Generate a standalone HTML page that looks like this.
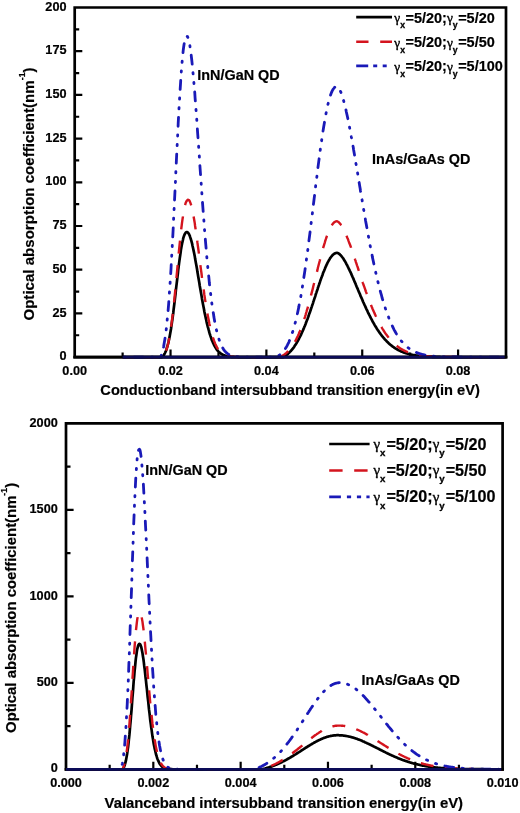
<!DOCTYPE html>
<html><head><meta charset="utf-8"><title>Optical absorption coefficient</title>
<style>html,body{margin:0;padding:0;background:#fff}svg{display:block}text{font-family:"Liberation Sans", sans-serif;font-weight:bold;fill:#000;stroke:#000;stroke-width:0.2px}</style>
</head><body>
<svg width="520" height="813" viewBox="0 0 520 813">
<rect width="520" height="813" fill="#fff"/>
<path d="M74.7,357.1 L74.7,7.5 L506.0,7.5 L506.0,357.1 Z" fill="none" stroke="#000" stroke-width="2.7" stroke-linejoin="miter"/>
<path d="M122.62,357.1 v-4.5 M170.54,357.1 v-7.6 M218.47,357.1 v-4.5 M266.39,357.1 v-7.6 M314.31,357.1 v-4.5 M362.23,357.1 v-7.6 M410.16,357.1 v-4.5 M458.08,357.1 v-7.6 M74.7,335.25 h4.5 M74.7,313.40 h7.6 M74.7,291.55 h4.5 M74.7,269.70 h7.6 M74.7,247.85 h4.5 M74.7,226.00 h7.6 M74.7,204.15 h4.5 M74.7,182.30 h7.6 M74.7,160.45 h4.5 M74.7,138.60 h7.6 M74.7,116.75 h4.5 M74.7,94.90 h7.6 M74.7,73.05 h4.5 M74.7,51.20 h7.6 M74.7,29.35 h4.5" stroke="#000" stroke-width="2.2" fill="none"/>
<path d="M122.6,357.1 L123.0,357.1 L123.4,357.1 L123.8,357.1 L124.1,357.1 L124.5,357.1 L124.9,357.1 L125.3,357.1 L125.7,357.1 L126.1,357.1 L126.4,357.1 L126.8,357.1 L127.2,357.1 L127.6,357.1 L128.0,357.1 L128.4,357.1 L128.7,357.1 L129.1,357.1 L129.5,357.1 L129.9,357.1 L130.3,357.1 L130.7,357.1 L131.0,357.1 L131.4,357.1 L131.8,357.1 L132.2,357.1 L132.6,357.1 L133.0,357.1 L133.3,357.1 L133.7,357.1 L134.1,357.1 L134.5,357.1 L134.9,357.1 L135.3,357.1 L135.6,357.1 L136.0,357.1 L136.4,357.1 L136.8,357.1 L137.2,357.1 L137.6,357.1 L138.0,357.1 L138.3,357.1 L138.7,357.1 L139.1,357.1 L139.5,357.1 L139.9,357.1 L140.3,357.1 L140.6,357.1 L141.0,357.1 L141.4,357.1 L141.8,357.1 L142.2,357.1 L142.6,357.1 L142.9,357.1 L143.3,357.1 L143.7,357.1 L144.1,357.1 L144.5,357.1 L144.9,357.1 L145.2,357.1 L145.6,357.1 L146.0,357.1 L146.4,357.1 L146.8,357.1 L147.2,357.1 L147.5,357.1 L147.9,357.1 L148.3,357.1 L148.7,357.1 L149.1,357.1 L149.5,357.1 L149.8,357.1 L150.2,357.1 L150.6,357.1 L151.0,357.1 L151.4,357.1 L151.8,357.1 L152.2,357.1 L152.5,357.1 L152.9,357.1 L153.3,357.1 L153.7,357.1 L154.1,357.1 L154.5,357.1 L154.8,357.1 L155.2,357.1 L155.6,357.1 L156.0,357.1 L156.4,357.1 L156.8,357.1 L157.1,357.1 L157.5,357.1 L157.9,357.1 L158.3,357.1 L158.7,357.1 L159.1,357.1 L159.4,357.1 L159.8,357.1 L160.2,357.1 L160.6,357.1 L161.0,357.1 L161.4,357.1 L161.7,357.1 L162.1,357.0 L162.5,356.7 L162.9,356.2 L163.3,355.8 L163.7,355.2 L164.0,354.7 L164.4,354.0 L164.8,353.3 L165.2,352.5 L165.6,351.6 L166.0,350.7 L166.4,349.6 L166.7,348.5 L167.1,347.3 L167.5,345.9 L167.9,344.5 L168.3,343.0 L168.7,341.3 L169.0,339.6 L169.4,337.7 L169.8,335.7 L170.2,333.6 L170.6,331.3 L171.0,329.0 L171.3,326.5 L171.7,324.0 L172.1,321.3 L172.5,318.5 L172.9,315.6 L173.3,312.7 L173.6,309.6 L174.0,306.5 L174.4,303.3 L174.8,300.0 L175.2,296.7 L175.6,293.4 L175.9,290.0 L176.3,286.7 L176.7,283.3 L177.1,280.0 L177.5,276.6 L177.9,273.3 L178.2,270.1 L178.6,267.0 L179.0,263.9 L179.4,260.9 L179.8,258.0 L180.2,255.3 L180.6,252.6 L180.9,250.1 L181.3,247.8 L181.7,245.6 L182.1,243.5 L182.5,241.7 L182.9,240.0 L183.2,238.4 L183.6,237.1 L184.0,235.9 L184.4,234.9 L184.8,234.0 L185.2,233.4 L185.5,232.8 L185.9,232.5 L186.3,232.2 L186.7,232.1 L187.1,232.1 L187.5,232.2 L187.8,232.5 L188.2,232.9 L188.6,233.5 L189.0,234.2 L189.4,235.0 L189.8,235.9 L190.1,236.9 L190.5,238.1 L190.9,239.3 L191.3,240.7 L191.7,242.1 L192.1,243.6 L192.4,245.3 L192.8,247.0 L193.2,248.7 L193.6,250.6 L194.0,252.5 L194.4,254.5 L194.8,256.5 L195.1,258.6 L195.5,260.7 L195.9,262.9 L196.3,265.0 L196.7,267.3 L197.1,269.5 L197.4,271.8 L197.8,274.1 L198.2,276.4 L198.6,278.7 L199.0,281.0 L199.4,283.3 L199.7,285.5 L200.1,287.8 L200.5,290.1 L200.9,292.3 L201.3,294.6 L201.7,296.8 L202.0,298.9 L202.4,301.1 L202.8,303.2 L203.2,305.2 L203.6,307.3 L204.0,309.3 L204.3,311.2 L204.7,313.1 L205.1,315.0 L205.5,316.8 L205.9,318.6 L206.3,320.3 L206.6,322.0 L207.0,323.6 L207.4,325.2 L207.8,326.8 L208.2,328.2 L208.6,329.7 L209.0,331.0 L209.3,332.4 L209.7,333.7 L210.1,334.9 L210.5,336.1 L210.9,337.2 L211.3,338.3 L211.6,339.4 L212.0,340.4 L212.4,341.3 L212.8,342.2 L213.2,343.1 L213.6,343.9 L213.9,344.7 L214.3,345.5 L214.7,346.2 L215.1,346.9 L215.5,347.5 L215.9,348.2 L216.2,348.7 L216.6,349.3 L217.0,349.8 L217.4,350.3 L217.8,350.8 L218.2,351.2 L218.5,351.6 L218.9,352.0 L219.3,352.3 L219.7,352.7 L220.1,353.0 L220.5,353.3 L220.8,353.6 L221.2,353.8 L221.6,354.1 L222.0,354.3 L222.4,354.5 L222.8,354.7 L223.2,354.9 L223.5,355.1 L223.9,355.2 L224.3,355.4 L224.7,355.5 L225.1,355.7 L225.5,355.8 L225.8,355.9 L226.2,356.0 L226.6,356.1 L227.0,356.2 L227.4,356.2 L227.8,356.3 L228.1,356.4 L228.5,356.5 L228.9,356.5 L229.3,356.6 L229.7,356.6 L230.1,356.7 L230.4,356.7 L230.8,356.7 L231.2,356.8 L231.6,356.8 L232.0,356.8 L232.4,356.9 L232.7,356.9 L233.1,356.9 L233.5,356.9 L233.9,356.9 L234.3,357.0 L234.7,357.0 L235.0,357.0 L235.4,357.0 L235.8,357.0 L236.2,357.0 L236.6,357.0 L237.0,357.0 L237.4,357.0 L237.7,357.0 L238.1,357.0 L238.5,357.1 L238.9,357.1 L239.3,357.1 L239.7,357.1 L240.0,357.1 L240.4,357.1 L240.8,357.1 L241.2,357.1 L241.6,357.1 L242.0,357.1 L242.3,357.1 L242.7,357.1 L243.1,357.1 L243.5,357.1 L243.9,357.1 L244.3,357.1 L244.6,357.1 L245.0,357.1 L245.4,357.1 L245.8,357.1 L246.2,357.1 L246.6,357.1 L246.9,357.1 L247.3,357.1 L247.7,357.1 L248.1,357.1 L248.5,357.1 L248.9,357.1 L249.2,357.1 L249.6,357.1 L250.0,357.1 L250.4,357.1 L250.8,357.1 L251.2,357.1 L251.6,357.1 L251.9,357.1 L252.3,357.1 L252.7,357.1 L253.1,357.1 L253.5,357.1 L253.9,357.1 L254.2,357.1 L254.6,357.1 L255.0,357.1 L255.4,357.1 L255.8,357.1 L256.2,357.1 L256.5,357.1 L256.9,357.1 L257.3,357.1 L257.7,357.1 L258.1,357.1 L258.5,357.1 L258.8,357.1 L259.2,357.1 L259.6,357.1 L260.0,357.1 L260.4,357.1 L260.8,357.1 L261.1,357.1 L261.5,357.1 L261.9,357.1 L262.3,357.1 L262.7,357.1 L263.1,357.1 L263.4,357.1 L263.8,357.1 L264.2,357.1 L264.6,357.1 L265.0,357.1 L265.4,357.1 L265.8,357.1 L266.1,357.1 L266.5,357.1 L266.9,357.1 L267.3,357.1 L267.7,357.1 L268.1,357.1 L268.4,357.1 L268.8,357.1 L269.2,357.1 L269.6,357.1 L270.0,357.1 L270.4,357.1 L270.7,357.1 L271.1,357.1 L271.5,357.1 L271.9,357.1 L272.3,357.1 L272.7,357.1 L273.0,357.1 L273.4,357.1 L273.8,357.1 L274.2,357.1 L274.6,357.1 L275.0,357.1 L275.3,357.1 L275.7,357.1 L276.1,357.1 L276.5,357.1 L276.9,357.1 L277.3,357.1 L277.6,357.1 L278.0,357.1 L278.4,357.1 L278.8,357.1 L279.2,357.1 L279.6,357.1 L280.0,357.1 L280.3,357.1 L280.7,357.1 L281.1,357.1 L281.5,357.1 L281.9,357.1 L282.3,357.1 L282.6,357.1 L283.0,357.1 L283.4,357.1 L283.8,356.9 L284.2,356.7 L284.6,356.4 L284.9,356.2 L285.3,355.9 L285.7,355.6 L286.1,355.3 L286.5,355.0 L286.9,354.7 L287.2,354.4 L287.6,354.1 L288.0,353.8 L288.4,353.4 L288.8,353.0 L289.2,352.7 L289.5,352.3 L289.9,351.9 L290.3,351.5 L290.7,351.1 L291.1,350.7 L291.5,350.2 L291.8,349.8 L292.2,349.3 L292.6,348.8 L293.0,348.3 L293.4,347.8 L293.8,347.3 L294.2,346.7 L294.5,346.2 L294.9,345.6 L295.3,345.0 L295.7,344.4 L296.1,343.8 L296.5,343.2 L296.8,342.6 L297.2,341.9 L297.6,341.3 L298.0,340.6 L298.4,339.9 L298.8,339.2 L299.1,338.4 L299.5,337.7 L299.9,336.9 L300.3,336.2 L300.7,335.4 L301.1,334.6 L301.4,333.7 L301.8,332.9 L302.2,332.0 L302.6,331.2 L303.0,330.3 L303.4,329.4 L303.7,328.5 L304.1,327.6 L304.5,326.6 L304.9,325.7 L305.3,324.7 L305.7,323.7 L306.0,322.8 L306.4,321.7 L306.8,320.7 L307.2,319.7 L307.6,318.7 L308.0,317.6 L308.4,316.5 L308.7,315.5 L309.1,314.4 L309.5,313.3 L309.9,312.2 L310.3,311.1 L310.7,310.0 L311.0,308.8 L311.4,307.7 L311.8,306.6 L312.2,305.4 L312.6,304.3 L313.0,303.1 L313.3,301.9 L313.7,300.8 L314.1,299.6 L314.5,298.4 L314.9,297.3 L315.3,296.1 L315.6,294.9 L316.0,293.7 L316.4,292.6 L316.8,291.4 L317.2,290.2 L317.6,289.1 L317.9,287.9 L318.3,286.8 L318.7,285.6 L319.1,284.5 L319.5,283.3 L319.9,282.2 L320.2,281.1 L320.6,280.0 L321.0,278.9 L321.4,277.8 L321.8,276.8 L322.2,275.7 L322.6,274.7 L322.9,273.6 L323.3,272.6 L323.7,271.6 L324.1,270.7 L324.5,269.7 L324.9,268.8 L325.2,267.9 L325.6,267.0 L326.0,266.1 L326.4,265.2 L326.8,264.4 L327.2,263.6 L327.5,262.8 L327.9,262.1 L328.3,261.4 L328.7,260.6 L329.1,260.0 L329.5,259.3 L329.8,258.7 L330.2,258.1 L330.6,257.6 L331.0,257.0 L331.4,256.5 L331.8,256.1 L332.1,255.6 L332.5,255.2 L332.9,254.8 L333.3,254.5 L333.7,254.2 L334.1,253.9 L334.4,253.7 L334.8,253.5 L335.2,253.3 L335.6,253.1 L336.0,253.0 L336.4,253.0 L336.8,252.9 L337.1,252.9 L337.5,253.0 L337.9,253.1 L338.3,253.3 L338.7,253.5 L339.1,253.8 L339.4,254.1 L339.8,254.4 L340.2,254.8 L340.6,255.1 L341.0,255.6 L341.4,256.0 L341.7,256.5 L342.1,257.0 L342.5,257.5 L342.9,258.0 L343.3,258.6 L343.7,259.2 L344.0,259.8 L344.4,260.4 L344.8,261.0 L345.2,261.7 L345.6,262.4 L346.0,263.1 L346.3,263.8 L346.7,264.5 L347.1,265.2 L347.5,266.0 L347.9,266.8 L348.3,267.5 L348.6,268.3 L349.0,269.1 L349.4,269.9 L349.8,270.8 L350.2,271.6 L350.6,272.4 L351.0,273.3 L351.3,274.1 L351.7,275.0 L352.1,275.9 L352.5,276.8 L352.9,277.6 L353.3,278.5 L353.6,279.4 L354.0,280.3 L354.4,281.2 L354.8,282.1 L355.2,283.0 L355.6,283.9 L355.9,284.8 L356.3,285.7 L356.7,286.7 L357.1,287.6 L357.5,288.5 L357.9,289.4 L358.2,290.3 L358.6,291.2 L359.0,292.1 L359.4,293.0 L359.8,293.9 L360.2,294.8 L360.5,295.8 L360.9,296.6 L361.3,297.5 L361.7,298.4 L362.1,299.3 L362.5,300.2 L362.8,301.1 L363.2,302.0 L363.6,302.8 L364.0,303.7 L364.4,304.6 L364.8,305.4 L365.2,306.3 L365.5,307.1 L365.9,307.9 L366.3,308.8 L366.7,309.6 L367.1,310.4 L367.5,311.2 L367.8,312.0 L368.2,312.8 L368.6,313.6 L369.0,314.4 L369.4,315.2 L369.8,315.9 L370.1,316.7 L370.5,317.4 L370.9,318.2 L371.3,318.9 L371.7,319.6 L372.1,320.3 L372.4,321.1 L372.8,321.8 L373.2,322.4 L373.6,323.1 L374.0,323.8 L374.4,324.5 L374.7,325.1 L375.1,325.8 L375.5,326.4 L375.9,327.0 L376.3,327.7 L376.7,328.3 L377.0,328.9 L377.4,329.5 L377.8,330.1 L378.2,330.6 L378.6,331.2 L379.0,331.8 L379.4,332.3 L379.7,332.9 L380.1,333.4 L380.5,333.9 L380.9,334.5 L381.3,335.0 L381.7,335.5 L382.0,336.0 L382.4,336.4 L382.8,336.9 L383.2,337.4 L383.6,337.8 L384.0,338.3 L384.3,338.7 L384.7,339.2 L385.1,339.6 L385.5,340.0 L385.9,340.4 L386.3,340.8 L386.6,341.2 L387.0,341.6 L387.4,342.0 L387.8,342.4 L388.2,342.7 L388.6,343.1 L388.9,343.5 L389.3,343.8 L389.7,344.1 L390.1,344.5 L390.5,344.8 L390.9,345.1 L391.2,345.4 L391.6,345.7 L392.0,346.0 L392.4,346.3 L392.8,346.6 L393.2,346.9 L393.6,347.1 L393.9,347.4 L394.3,347.7 L394.7,347.9 L395.1,348.2 L395.5,348.4 L395.9,348.7 L396.2,348.9 L396.6,349.1 L397.0,349.3 L397.4,349.6 L397.8,349.8 L398.2,350.0 L398.5,350.2 L398.9,350.4 L399.3,350.6 L399.7,350.8 L400.1,350.9 L400.5,351.1 L400.8,351.3 L401.2,351.5 L401.6,351.6 L402.0,351.8 L402.4,351.9 L402.8,352.1 L403.1,352.2 L403.5,352.4 L403.9,352.5 L404.3,352.7 L404.7,352.8 L405.1,352.9 L405.4,353.1 L405.8,353.2 L406.2,353.3 L406.6,353.4 L407.0,353.5 L407.4,353.6 L407.8,353.7 L408.1,353.9 L408.5,354.0 L408.9,354.1 L409.3,354.2 L409.7,354.2 L410.1,354.3 L410.4,354.4 L410.8,354.5 L411.2,354.6 L411.6,354.7 L412.0,354.8 L412.4,354.8 L412.7,354.9 L413.1,355.0 L413.5,355.0 L413.9,355.1 L414.3,355.2 L414.7,355.2 L415.0,355.3 L415.4,355.4 L415.8,355.4 L416.2,355.5 L416.6,355.5 L417.0,355.6 L417.3,355.6 L417.7,355.7 L418.1,355.7 L418.5,355.8 L418.9,355.8 L419.3,355.9 L419.6,355.9 L420.0,356.0 L420.4,356.0 L420.8,356.0 L421.2,356.1 L421.6,356.1 L422.0,356.1 L422.3,356.2 L422.7,356.2 L423.1,356.2 L423.5,356.3 L423.9,356.3 L424.3,356.3 L424.6,356.4 L425.0,356.4 L425.4,356.4 L425.8,356.4 L426.2,356.5 L426.6,356.5 L426.9,356.5 L427.3,356.5 L427.7,356.5 L428.1,356.6 L428.5,356.6 L428.9,356.6 L429.2,356.6 L429.6,356.6 L430.0,356.7 L430.4,356.7 L430.8,356.7 L431.2,356.7 L431.5,356.7 L431.9,356.7 L432.3,356.8 L432.7,356.8 L433.1,356.8 L433.5,356.8 L433.8,356.8 L434.2,356.8 L434.6,356.8 L435.0,356.8 L435.4,356.8 L435.8,356.9 L436.2,356.9 L436.5,356.9 L436.9,356.9 L437.3,356.9 L437.7,356.9 L438.1,356.9 L438.5,356.9 L438.8,356.9 L439.2,356.9 L439.6,356.9 L440.0,356.9 L440.4,357.0 L440.8,357.0 L441.1,357.0 L441.5,357.0 L441.9,357.0 L442.3,357.0 L442.7,357.0 L443.1,357.0 L443.4,357.0 L443.8,357.0 L444.2,357.0 L444.6,357.0 L445.0,357.0 L445.4,357.0 L445.7,357.0 L446.1,357.0 L446.5,357.0 L446.9,357.0 L447.3,357.0 L447.7,357.0 L448.0,357.0 L448.4,357.0 L448.8,357.0 L449.2,357.0 L449.6,357.0 L450.0,357.0 L450.4,357.1 L450.7,357.1 L451.1,357.1 L451.5,357.1 L451.9,357.1 L452.3,357.1 L452.7,357.1 L453.0,357.1 L453.4,357.1 L453.8,357.1 L454.2,357.1 L454.6,357.1 L455.0,357.1 L455.3,357.1 L455.7,357.1 L456.1,357.1 L456.5,357.1 L456.9,357.1 L457.3,357.1 L457.6,357.1 L458.0,357.1 L458.4,357.1 L458.8,357.1 L459.2,357.1 L459.6,357.1 L459.9,357.1 L460.3,357.1 L460.7,357.1 L461.1,357.1 L461.5,357.1 L461.9,357.1 L462.2,357.1 L462.6,357.1 L463.0,357.1 L463.4,357.1 L463.8,357.1 L464.2,357.1 L464.6,357.1 L464.9,357.1 L465.3,357.1 L465.7,357.1 L466.1,357.1 L466.5,357.1 L466.9,357.1 L467.2,357.1 L467.6,357.1 L468.0,357.1 L468.4,357.1 L468.8,357.1 L469.2,357.1 L469.5,357.1 L469.9,357.1 L470.3,357.1 L470.7,357.1 L471.1,357.1 L471.5,357.1 L471.8,357.1 L472.2,357.1 L472.6,357.1 L473.0,357.1 L473.4,357.1 L473.8,357.1 L474.1,357.1 L474.5,357.1 L474.9,357.1 L475.3,357.1 L475.7,357.1 L476.1,357.1 L476.4,357.1 L476.8,357.1 L477.2,357.1 L477.6,357.1 L478.0,357.1 L478.4,357.1 L478.8,357.1 L479.1,357.1 L479.5,357.1 L479.9,357.1 L480.3,357.1 L480.7,357.1 L481.1,357.1 L481.4,357.1 L481.8,357.1 L482.2,357.1 L482.6,357.1 L483.0,357.1 L483.4,357.1 L483.7,357.1 L484.1,357.1 L484.5,357.1 L484.9,357.1 L485.3,357.1 L485.7,357.1 L486.0,357.1 L486.4,357.1 L486.8,357.1 L487.2,357.1 L487.6,357.1 L488.0,357.1 L488.3,357.1 L488.7,357.1 L489.1,357.1 L489.5,357.1 L489.9,357.1 L490.3,357.1 L490.6,357.1 L491.0,357.1 L491.4,357.1 L491.8,357.1 L492.2,357.1 L492.6,357.1 L493.0,357.1 L493.3,357.1 L493.7,357.1 L494.1,357.1 L494.5,357.1 L494.9,357.1 L495.3,357.1 L495.6,357.1 L496.0,357.1 L496.4,357.1 L496.8,357.1 L497.2,357.1 L497.6,357.1 L497.9,357.1 L498.3,357.1 L498.7,357.1 L499.1,357.1 L499.5,357.1 L499.9,357.1 L500.2,357.1 L500.6,357.1 L501.0,357.1 L501.4,357.1 L501.8,357.1 L502.2,357.1 L502.5,357.1 L502.9,357.1 L503.3,357.1 L503.7,357.1 L504.1,357.1 L504.5,357.1 L504.8,357.1 L505.2,357.1 L505.6,357.1 L506.0,357.1" fill="none" stroke="#000" stroke-width="2.7" stroke-linejoin="round"/>
<path d="M122.6,357.1 L123.0,357.1 L123.4,357.1 L123.8,357.1 L124.1,357.1 L124.5,357.1 L124.9,357.1 L125.3,357.1 L125.7,357.1 L126.1,357.1 L126.4,357.1 L126.8,357.1 L127.2,357.1 L127.6,357.1 L128.0,357.1 L128.4,357.1 L128.7,357.1 L129.1,357.1 L129.5,357.1 L129.9,357.1 L130.3,357.1 L130.7,357.1 L131.0,357.1 L131.4,357.1 L131.8,357.1 L132.2,357.1 L132.6,357.1 L133.0,357.1 L133.3,357.1 L133.7,357.1 L134.1,357.1 L134.5,357.1 L134.9,357.1 L135.3,357.1 L135.6,357.1 L136.0,357.1 L136.4,357.1 L136.8,357.1 L137.2,357.1 L137.6,357.1 L138.0,357.1 L138.3,357.1 L138.7,357.1 L139.1,357.1 L139.5,357.1 L139.9,357.1 L140.3,357.1 L140.6,357.1 L141.0,357.1 L141.4,357.1 L141.8,357.1 L142.2,357.1 L142.6,357.1 L142.9,357.1 L143.3,357.1 L143.7,357.1 L144.1,357.1 L144.5,357.1 L144.9,357.1 L145.2,357.1 L145.6,357.1 L146.0,357.1 L146.4,357.1 L146.8,357.1 L147.2,357.1 L147.5,357.1 L147.9,357.1 L148.3,357.1 L148.7,357.1 L149.1,357.1 L149.5,357.1 L149.8,357.1 L150.2,357.1 L150.6,357.1 L151.0,357.1 L151.4,357.1 L151.8,357.1 L152.2,357.1 L152.5,357.1 L152.9,357.1 L153.3,357.1 L153.7,357.1 L154.1,357.1 L154.5,357.1 L154.8,357.1 L155.2,357.1 L155.6,357.1 L156.0,357.1 L156.4,357.1 L156.8,357.1 L157.1,357.1 L157.5,357.1 L157.9,357.1 L158.3,357.1 L158.7,357.1 L159.1,357.1 L159.4,357.1 L159.8,357.1 L160.2,357.1 L160.6,357.1 L161.0,357.1 L161.4,357.1 L161.7,357.1 L162.1,357.1 L162.5,357.1 L162.9,356.8 L163.3,356.3 L163.7,355.8 L164.0,355.2 L164.4,354.5 L164.8,353.8 L165.2,353.0 L165.6,352.0 L166.0,351.1 L166.4,350.0 L166.7,348.8 L167.1,347.5 L167.5,346.1 L167.9,344.6 L168.3,342.9 L168.7,341.2 L169.0,339.3 L169.4,337.3 L169.8,335.1 L170.2,332.8 L170.6,330.4 L171.0,327.8 L171.3,325.1 L171.7,322.3 L172.1,319.3 L172.5,316.2 L172.9,312.9 L173.3,309.5 L173.6,306.1 L174.0,302.5 L174.4,298.8 L174.8,295.0 L175.2,291.1 L175.6,287.1 L175.9,283.1 L176.3,279.1 L176.7,275.0 L177.1,270.9 L177.5,266.7 L177.9,262.6 L178.2,258.5 L178.6,254.5 L179.0,250.5 L179.4,246.6 L179.8,242.7 L180.2,239.0 L180.6,235.4 L180.9,231.9 L181.3,228.5 L181.7,225.3 L182.1,222.2 L182.5,219.4 L182.9,216.7 L183.2,214.2 L183.6,211.9 L184.0,209.8 L184.4,207.9 L184.8,206.2 L185.2,204.7 L185.5,203.5 L185.9,202.4 L186.3,201.5 L186.7,200.9 L187.1,200.4 L187.5,200.0 L187.8,199.8 L188.2,199.8 L188.6,199.9 L189.0,200.2 L189.4,200.6 L189.8,201.3 L190.1,202.1 L190.5,203.2 L190.9,204.3 L191.3,205.6 L191.7,207.1 L192.1,208.7 L192.4,210.5 L192.8,212.4 L193.2,214.4 L193.6,216.5 L194.0,218.7 L194.4,221.0 L194.8,223.4 L195.1,226.0 L195.5,228.5 L195.9,231.2 L196.3,233.9 L196.7,236.7 L197.1,239.5 L197.4,242.4 L197.8,245.3 L198.2,248.2 L198.6,251.2 L199.0,254.2 L199.4,257.2 L199.7,260.2 L200.1,263.1 L200.5,266.1 L200.9,269.1 L201.3,272.0 L201.7,275.0 L202.0,277.9 L202.4,280.7 L202.8,283.6 L203.2,286.4 L203.6,289.1 L204.0,291.8 L204.3,294.5 L204.7,297.0 L205.1,299.6 L205.5,302.1 L205.9,304.5 L206.3,306.8 L206.6,309.1 L207.0,311.4 L207.4,313.5 L207.8,315.6 L208.2,317.7 L208.6,319.6 L209.0,321.5 L209.3,323.4 L209.7,325.1 L210.1,326.8 L210.5,328.5 L210.9,330.1 L211.3,331.6 L211.6,333.0 L212.0,334.4 L212.4,335.7 L212.8,337.0 L213.2,338.2 L213.6,339.3 L213.9,340.4 L214.3,341.4 L214.7,342.4 L215.1,343.4 L215.5,344.3 L215.9,345.1 L216.2,345.9 L216.6,346.6 L217.0,347.4 L217.4,348.0 L217.8,348.7 L218.2,349.2 L218.5,349.8 L218.9,350.3 L219.3,350.8 L219.7,351.3 L220.1,351.7 L220.5,352.1 L220.8,352.5 L221.2,352.8 L221.6,353.2 L222.0,353.5 L222.4,353.8 L222.8,354.0 L223.2,354.3 L223.5,354.5 L223.9,354.7 L224.3,354.9 L224.7,355.1 L225.1,355.3 L225.5,355.4 L225.8,355.6 L226.2,355.7 L226.6,355.8 L227.0,355.9 L227.4,356.0 L227.8,356.1 L228.1,356.2 L228.5,356.3 L228.9,356.4 L229.3,356.4 L229.7,356.5 L230.1,356.6 L230.4,356.6 L230.8,356.7 L231.2,356.7 L231.6,356.7 L232.0,356.8 L232.4,356.8 L232.7,356.8 L233.1,356.9 L233.5,356.9 L233.9,356.9 L234.3,356.9 L234.7,356.9 L235.0,357.0 L235.4,357.0 L235.8,357.0 L236.2,357.0 L236.6,357.0 L237.0,357.0 L237.4,357.0 L237.7,357.0 L238.1,357.0 L238.5,357.0 L238.9,357.1 L239.3,357.1 L239.7,357.1 L240.0,357.1 L240.4,357.1 L240.8,357.1 L241.2,357.1 L241.6,357.1 L242.0,357.1 L242.3,357.1 L242.7,357.1 L243.1,357.1 L243.5,357.1 L243.9,357.1 L244.3,357.1 L244.6,357.1 L245.0,357.1 L245.4,357.1 L245.8,357.1 L246.2,357.1 L246.6,357.1 L246.9,357.1 L247.3,357.1 L247.7,357.1 L248.1,357.1 L248.5,357.1 L248.9,357.1 L249.2,357.1 L249.6,357.1 L250.0,357.1 L250.4,357.1 L250.8,357.1 L251.2,357.1 L251.6,357.1 L251.9,357.1 L252.3,357.1 L252.7,357.1 L253.1,357.1 L253.5,357.1 L253.9,357.1 L254.2,357.1 L254.6,357.1 L255.0,357.1 L255.4,357.1 L255.8,357.1 L256.2,357.1 L256.5,357.1 L256.9,357.1 L257.3,357.1 L257.7,357.1 L258.1,357.1 L258.5,357.1 L258.8,357.1 L259.2,357.1 L259.6,357.1 L260.0,357.1 L260.4,357.1 L260.8,357.1 L261.1,357.1 L261.5,357.1 L261.9,357.1" fill="none" stroke="#d4141e" stroke-width="2.4" stroke-dasharray="13 11.5" stroke-dashoffset="1.65" stroke-linejoin="round"/>
<path d="M261.9,357.1 L262.3,357.1 L262.7,357.1 L263.1,357.1 L263.4,357.1 L263.8,357.1 L264.2,357.1 L264.6,357.1 L265.0,357.1 L265.4,357.1 L265.8,357.1 L266.1,357.1 L266.5,357.1 L266.9,357.1 L267.3,357.1 L267.7,357.1 L268.1,357.1 L268.4,357.1 L268.8,357.1 L269.2,357.1 L269.6,357.1 L270.0,357.1 L270.4,357.1 L270.7,357.1 L271.1,357.1 L271.5,357.1 L271.9,357.1 L272.3,357.1 L272.7,357.1 L273.0,357.1 L273.4,357.1 L273.8,357.1 L274.2,357.1 L274.6,357.1 L275.0,357.1 L275.3,357.1 L275.7,357.1 L276.1,357.1 L276.5,357.1 L276.9,357.1 L277.3,357.1 L277.6,357.1 L278.0,357.1 L278.4,357.1 L278.8,357.1 L279.2,357.1 L279.6,357.1 L280.0,357.1 L280.3,356.9 L280.7,356.7 L281.1,356.5 L281.5,356.3 L281.9,356.1 L282.3,355.9 L282.6,355.6 L283.0,355.4 L283.4,355.2 L283.8,354.9 L284.2,354.6 L284.6,354.4 L284.9,354.1 L285.3,353.8 L285.7,353.5 L286.1,353.2 L286.5,352.8 L286.9,352.5 L287.2,352.1 L287.6,351.8 L288.0,351.4 L288.4,351.0 L288.8,350.6 L289.2,350.1 L289.5,349.7 L289.9,349.2 L290.3,348.8 L290.7,348.3 L291.1,347.8 L291.5,347.3 L291.8,346.7 L292.2,346.2 L292.6,345.6 L293.0,345.0 L293.4,344.4 L293.8,343.8 L294.2,343.1 L294.5,342.5 L294.9,341.8 L295.3,341.1 L295.7,340.4 L296.1,339.7 L296.5,338.9 L296.8,338.1 L297.2,337.3 L297.6,336.5 L298.0,335.7 L298.4,334.8 L298.8,333.9 L299.1,333.0 L299.5,332.1 L299.9,331.2 L300.3,330.2 L300.7,329.2 L301.1,328.2 L301.4,327.2 L301.8,326.2 L302.2,325.1 L302.6,324.0 L303.0,322.9 L303.4,321.8 L303.7,320.6 L304.1,319.5 L304.5,318.3 L304.9,317.1 L305.3,315.8 L305.7,314.6 L306.0,313.3 L306.4,312.1 L306.8,310.7 L307.2,309.4 L307.6,308.1 L308.0,306.7 L308.4,305.4 L308.7,304.0 L309.1,302.6 L309.5,301.2 L309.9,299.7 L310.3,298.3 L310.7,296.8 L311.0,295.4 L311.4,293.9 L311.8,292.4 L312.2,290.9 L312.6,289.4 L313.0,287.9 L313.3,286.3 L313.7,284.8 L314.1,283.3 L314.5,281.7 L314.9,280.2 L315.3,278.6 L315.6,277.1 L316.0,275.5 L316.4,274.0 L316.8,272.4 L317.2,270.9 L317.6,269.4 L317.9,267.8 L318.3,266.3 L318.7,264.8 L319.1,263.2 L319.5,261.7 L319.9,260.2 L320.2,258.8 L320.6,257.3 L321.0,255.8 L321.4,254.4 L321.8,252.9 L322.2,251.5 L322.6,250.1 L322.9,248.8 L323.3,247.4 L323.7,246.1 L324.1,244.8 L324.5,243.5 L324.9,242.3 L325.2,241.0 L325.6,239.8 L326.0,238.7 L326.4,237.5 L326.8,236.4 L327.2,235.3 L327.5,234.3 L327.9,233.3 L328.3,232.3 L328.7,231.4 L329.1,230.5 L329.5,229.6 L329.8,228.8 L330.2,228.0 L330.6,227.3 L331.0,226.5 L331.4,225.9 L331.8,225.3 L332.1,224.7 L332.5,224.2 L332.9,223.7 L333.3,223.2 L333.7,222.8 L334.1,222.5 L334.4,222.2 L334.8,221.9 L335.2,221.7 L335.6,221.5 L336.0,221.4 L336.4,221.3 L336.8,221.3 L337.1,221.3 L337.5,221.5 L337.9,221.7 L338.3,221.9 L338.7,222.2 L339.1,222.6 L339.4,222.9 L339.8,223.4 L340.2,223.8 L340.6,224.3 L341.0,224.9 L341.4,225.4 L341.7,226.0 L342.1,226.7 L342.5,227.3 L342.9,228.0 L343.3,228.8 L343.7,229.5 L344.0,230.3 L344.4,231.1 L344.8,231.9 L345.2,232.7 L345.6,233.6 L346.0,234.5 L346.3,235.4 L346.7,236.3 L347.1,237.2 L347.5,238.2 L347.9,239.1 L348.3,240.1 L348.6,241.1 L349.0,242.2 L349.4,243.2 L349.8,244.2 L350.2,245.3 L350.6,246.3 L351.0,247.4 L351.3,248.5 L351.7,249.6 L352.1,250.7 L352.5,251.8 L352.9,252.9 L353.3,254.1 L353.6,255.2 L354.0,256.3 L354.4,257.5 L354.8,258.6 L355.2,259.8 L355.6,260.9 L355.9,262.1 L356.3,263.2 L356.7,264.4 L357.1,265.6 L357.5,266.7 L357.9,267.9 L358.2,269.0 L358.6,270.2 L359.0,271.4 L359.4,272.5 L359.8,273.7 L360.2,274.8 L360.5,276.0 L360.9,277.1 L361.3,278.3 L361.7,279.4 L362.1,280.5 L362.5,281.7 L362.8,282.8 L363.2,283.9 L363.6,285.0 L364.0,286.1 L364.4,287.2 L364.8,288.3 L365.2,289.4 L365.5,290.5 L365.9,291.6 L366.3,292.6 L366.7,293.7 L367.1,294.7 L367.5,295.8 L367.8,296.8 L368.2,297.8 L368.6,298.9 L369.0,299.9 L369.4,300.9 L369.8,301.9 L370.1,302.8 L370.5,303.8 L370.9,304.8 L371.3,305.7 L371.7,306.7 L372.1,307.6 L372.4,308.5 L372.8,309.4 L373.2,310.3 L373.6,311.2 L374.0,312.1 L374.4,312.9 L374.7,313.8 L375.1,314.6 L375.5,315.5 L375.9,316.3 L376.3,317.1 L376.7,317.9 L377.0,318.7 L377.4,319.5 L377.8,320.3 L378.2,321.0 L378.6,321.8 L379.0,322.5 L379.4,323.2 L379.7,324.0 L380.1,324.7 L380.5,325.4 L380.9,326.0 L381.3,326.7 L381.7,327.4 L382.0,328.0 L382.4,328.7 L382.8,329.3 L383.2,329.9 L383.6,330.5 L384.0,331.1 L384.3,331.7 L384.7,332.3 L385.1,332.9 L385.5,333.4 L385.9,334.0 L386.3,334.5 L386.6,335.0 L387.0,335.6 L387.4,336.1 L387.8,336.6 L388.2,337.1 L388.6,337.5 L388.9,338.0 L389.3,338.5 L389.7,338.9 L390.1,339.4 L390.5,339.8 L390.9,340.2 L391.2,340.7 L391.6,341.1 L392.0,341.5 L392.4,341.9 L392.8,342.3 L393.2,342.6 L393.6,343.0 L393.9,343.4 L394.3,343.7 L394.7,344.1 L395.1,344.4 L395.5,344.8 L395.9,345.1 L396.2,345.4 L396.6,345.7 L397.0,346.0 L397.4,346.3 L397.8,346.6 L398.2,346.9 L398.5,347.2 L398.9,347.4 L399.3,347.7 L399.7,348.0 L400.1,348.2 L400.5,348.5 L400.8,348.7 L401.2,348.9 L401.6,349.2 L402.0,349.4 L402.4,349.6 L402.8,349.8 L403.1,350.0 L403.5,350.2 L403.9,350.4 L404.3,350.6 L404.7,350.8 L405.1,351.0 L405.4,351.2 L405.8,351.3 L406.2,351.5 L406.6,351.7 L407.0,351.8 L407.4,352.0 L407.8,352.2 L408.1,352.3 L408.5,352.4 L408.9,352.6 L409.3,352.7 L409.7,352.9 L410.1,353.0 L410.4,353.1 L410.8,353.2 L411.2,353.4 L411.6,353.5 L412.0,353.6 L412.4,353.7 L412.7,353.8 L413.1,353.9 L413.5,354.0 L413.9,354.1 L414.3,354.2 L414.7,354.3 L415.0,354.4 L415.4,354.5 L415.8,354.6 L416.2,354.6 L416.6,354.7 L417.0,354.8 L417.3,354.9 L417.7,354.9 L418.1,355.0 L418.5,355.1 L418.9,355.2 L419.3,355.2 L419.6,355.3 L420.0,355.3 L420.4,355.4 L420.8,355.5 L421.2,355.5 L421.6,355.6 L422.0,355.6 L422.3,355.7 L422.7,355.7 L423.1,355.8 L423.5,355.8 L423.9,355.9 L424.3,355.9 L424.6,355.9 L425.0,356.0 L425.4,356.0 L425.8,356.1 L426.2,356.1 L426.6,356.1 L426.9,356.2 L427.3,356.2 L427.7,356.2 L428.1,356.3 L428.5,356.3 L428.9,356.3 L429.2,356.3 L429.6,356.4 L430.0,356.4 L430.4,356.4 L430.8,356.4 L431.2,356.5 L431.5,356.5 L431.9,356.5 L432.3,356.5 L432.7,356.6 L433.1,356.6 L433.5,356.6 L433.8,356.6 L434.2,356.6 L434.6,356.7 L435.0,356.7 L435.4,356.7 L435.8,356.7 L436.2,356.7 L436.5,356.7 L436.9,356.7 L437.3,356.8 L437.7,356.8 L438.1,356.8 L438.5,356.8 L438.8,356.8 L439.2,356.8 L439.6,356.8 L440.0,356.8 L440.4,356.9 L440.8,356.9 L441.1,356.9 L441.5,356.9 L441.9,356.9 L442.3,356.9 L442.7,356.9 L443.1,356.9 L443.4,356.9 L443.8,356.9 L444.2,356.9 L444.6,356.9 L445.0,356.9 L445.4,357.0 L445.7,357.0 L446.1,357.0 L446.5,357.0 L446.9,357.0 L447.3,357.0 L447.7,357.0 L448.0,357.0 L448.4,357.0 L448.8,357.0 L449.2,357.0 L449.6,357.0 L450.0,357.0 L450.4,357.0 L450.7,357.0 L451.1,357.0 L451.5,357.0 L451.9,357.0 L452.3,357.0 L452.7,357.0 L453.0,357.0 L453.4,357.0 L453.8,357.0 L454.2,357.0 L454.6,357.0 L455.0,357.0 L455.3,357.1 L455.7,357.1 L456.1,357.1 L456.5,357.1 L456.9,357.1 L457.3,357.1 L457.6,357.1 L458.0,357.1 L458.4,357.1 L458.8,357.1 L459.2,357.1 L459.6,357.1 L459.9,357.1 L460.3,357.1 L460.7,357.1 L461.1,357.1 L461.5,357.1 L461.9,357.1 L462.2,357.1 L462.6,357.1 L463.0,357.1 L463.4,357.1 L463.8,357.1 L464.2,357.1 L464.6,357.1 L464.9,357.1 L465.3,357.1 L465.7,357.1 L466.1,357.1 L466.5,357.1 L466.9,357.1 L467.2,357.1 L467.6,357.1 L468.0,357.1 L468.4,357.1 L468.8,357.1 L469.2,357.1 L469.5,357.1 L469.9,357.1 L470.3,357.1 L470.7,357.1 L471.1,357.1 L471.5,357.1 L471.8,357.1 L472.2,357.1 L472.6,357.1 L473.0,357.1 L473.4,357.1 L473.8,357.1 L474.1,357.1 L474.5,357.1 L474.9,357.1 L475.3,357.1 L475.7,357.1 L476.1,357.1 L476.4,357.1 L476.8,357.1 L477.2,357.1 L477.6,357.1 L478.0,357.1 L478.4,357.1 L478.8,357.1 L479.1,357.1 L479.5,357.1 L479.9,357.1 L480.3,357.1 L480.7,357.1 L481.1,357.1 L481.4,357.1 L481.8,357.1 L482.2,357.1 L482.6,357.1 L483.0,357.1 L483.4,357.1 L483.7,357.1 L484.1,357.1 L484.5,357.1 L484.9,357.1 L485.3,357.1 L485.7,357.1 L486.0,357.1 L486.4,357.1 L486.8,357.1 L487.2,357.1 L487.6,357.1 L488.0,357.1 L488.3,357.1 L488.7,357.1 L489.1,357.1 L489.5,357.1 L489.9,357.1 L490.3,357.1 L490.6,357.1 L491.0,357.1 L491.4,357.1 L491.8,357.1 L492.2,357.1 L492.6,357.1 L493.0,357.1 L493.3,357.1 L493.7,357.1 L494.1,357.1 L494.5,357.1 L494.9,357.1 L495.3,357.1 L495.6,357.1 L496.0,357.1 L496.4,357.1 L496.8,357.1 L497.2,357.1 L497.6,357.1 L497.9,357.1 L498.3,357.1 L498.7,357.1 L499.1,357.1 L499.5,357.1 L499.9,357.1 L500.2,357.1 L500.6,357.1 L501.0,357.1 L501.4,357.1 L501.8,357.1 L502.2,357.1 L502.5,357.1 L502.9,357.1 L503.3,357.1 L503.7,357.1 L504.1,357.1 L504.5,357.1 L504.8,357.1 L505.2,357.1 L505.6,357.1 L506.0,357.1" fill="none" stroke="#d4141e" stroke-width="2.4" stroke-dasharray="13 11.5" stroke-dashoffset="9.03" stroke-linejoin="round"/>
<path d="M122.6,357.1 L123.0,357.1 L123.4,357.1 L123.8,357.1 L124.1,357.1 L124.5,357.1 L124.9,357.1 L125.3,357.1 L125.7,357.1 L126.1,357.1 L126.4,357.1 L126.8,357.1 L127.2,357.1 L127.6,357.1 L128.0,357.1 L128.4,357.1 L128.7,357.1 L129.1,357.1 L129.5,357.1 L129.9,357.1 L130.3,357.1 L130.7,357.1 L131.0,357.1 L131.4,357.1 L131.8,357.1 L132.2,357.1 L132.6,357.1 L133.0,357.1 L133.3,357.1 L133.7,357.1 L134.1,357.1 L134.5,357.1 L134.9,357.1 L135.3,357.1 L135.6,357.1 L136.0,357.1 L136.4,357.1 L136.8,357.1 L137.2,357.1 L137.6,357.1 L138.0,357.1 L138.3,357.1 L138.7,357.1 L139.1,357.1 L139.5,357.1 L139.9,357.1 L140.3,357.1 L140.6,357.1 L141.0,357.1 L141.4,357.1 L141.8,357.1 L142.2,357.1 L142.6,357.1 L142.9,357.1 L143.3,357.1 L143.7,357.1 L144.1,357.1 L144.5,357.1 L144.9,357.1 L145.2,357.1 L145.6,357.1 L146.0,357.1 L146.4,357.1 L146.8,357.1 L147.2,357.1 L147.5,357.1 L147.9,357.1 L148.3,357.1 L148.7,357.1 L149.1,357.1 L149.5,357.1 L149.8,357.1 L150.2,357.1 L150.6,357.1 L151.0,357.1 L151.4,357.1 L151.8,357.1 L152.2,357.1 L152.5,357.1 L152.9,357.1 L153.3,357.1 L153.7,357.1 L154.1,357.1 L154.5,357.1 L154.8,357.1 L155.2,357.1 L155.6,357.1 L156.0,357.1 L156.4,357.1 L156.8,357.1 L157.1,357.1 L157.5,357.1 L157.9,357.1 L158.3,357.1 L158.7,357.1 L159.1,357.1 L159.4,357.1 L159.8,357.1 L160.2,357.1 L160.6,357.0 L161.0,356.1 L161.4,355.0 L161.7,353.9 L162.1,352.7 L162.5,351.3 L162.9,349.8 L163.3,348.1 L163.7,346.3 L164.0,344.3 L164.4,342.1 L164.8,339.7 L165.2,337.1 L165.6,334.3 L166.0,331.3 L166.4,328.0 L166.7,324.5 L167.1,320.8 L167.5,316.8 L167.9,312.6 L168.3,308.1 L168.7,303.3 L169.0,298.3 L169.4,292.9 L169.8,287.4 L170.2,281.6 L170.6,275.5 L171.0,269.1 L171.3,262.6 L171.7,255.8 L172.1,248.7 L172.5,241.5 L172.9,234.1 L173.3,226.5 L173.6,218.8 L174.0,210.9 L174.4,202.9 L174.8,194.9 L175.2,186.8 L175.6,178.7 L175.9,170.5 L176.3,162.4 L176.7,154.3 L177.1,146.3 L177.5,138.5 L177.9,130.7 L178.2,123.2 L178.6,115.8 L179.0,108.6 L179.4,101.7 L179.8,95.1 L180.2,88.7 L180.6,82.7 L180.9,77.0 L181.3,71.6 L181.7,66.6 L182.1,62.0 L182.5,57.8 L182.9,53.9 L183.2,50.5 L183.6,47.5 L184.0,44.8 L184.4,42.5 L184.8,40.6 L185.2,39.1 L185.5,38.0 L185.9,37.2 L186.3,36.6 L186.7,36.4 L187.1,36.4 L187.5,36.6 L187.8,37.3 L188.2,38.2 L188.6,39.5 L189.0,41.1 L189.4,42.9 L189.8,45.0 L190.1,47.4 L190.5,50.1 L190.9,53.0 L191.3,56.1 L191.7,59.5 L192.1,63.1 L192.4,66.8 L192.8,70.8 L193.2,75.0 L193.6,79.3 L194.0,83.8 L194.4,88.4 L194.8,93.2 L195.1,98.1 L195.5,103.2 L195.9,108.3 L196.3,113.5 L196.7,118.8 L197.1,124.2 L197.4,129.6 L197.8,135.1 L198.2,140.6 L198.6,146.2 L199.0,151.7 L199.4,157.3 L199.7,162.9 L200.1,168.5 L200.5,174.0 L200.9,179.6 L201.3,185.1 L201.7,190.5 L202.0,195.9 L202.4,201.3 L202.8,206.5 L203.2,211.8 L203.6,216.9 L204.0,222.0 L204.3,226.9 L204.7,231.8 L205.1,236.6 L205.5,241.3 L205.9,245.9 L206.3,250.4 L206.6,254.8 L207.0,259.1 L207.4,263.3 L207.8,267.3 L208.2,271.3 L208.6,275.1 L209.0,278.9 L209.3,282.5 L209.7,286.0 L210.1,289.3 L210.5,292.6 L210.9,295.8 L211.3,298.8 L211.6,301.7 L212.0,304.6 L212.4,307.3 L212.8,309.9 L213.2,312.4 L213.6,314.8 L213.9,317.1 L214.3,319.3 L214.7,321.4 L215.1,323.4 L215.5,325.4 L215.9,327.2 L216.2,328.9 L216.6,330.6 L217.0,332.2 L217.4,333.7 L217.8,335.1 L218.2,336.5 L218.5,337.8 L218.9,339.0 L219.3,340.2 L219.7,341.3 L220.1,342.3 L220.5,343.3 L220.8,344.2 L221.2,345.1 L221.6,345.9 L222.0,346.6 L222.4,347.4 L222.8,348.0 L223.2,348.7 L223.5,349.3 L223.9,349.8 L224.3,350.4 L224.7,350.9 L225.1,351.3 L225.5,351.7 L225.8,352.2 L226.2,352.5 L226.6,352.9 L227.0,353.2 L227.4,353.5 L227.8,353.8 L228.1,354.0 L228.5,354.3 L228.9,354.5 L229.3,354.7 L229.7,354.9 L230.1,355.1 L230.4,355.3 L230.8,355.4 L231.2,355.6 L231.6,355.7 L232.0,355.8 L232.4,355.9 L232.7,356.0 L233.1,356.1 L233.5,356.2 L233.9,356.3 L234.3,356.4 L234.7,356.4 L235.0,356.5 L235.4,356.5 L235.8,356.6 L236.2,356.6 L236.6,356.7 L237.0,356.7 L237.4,356.8 L237.7,356.8 L238.1,356.8 L238.5,356.8 L238.9,356.9 L239.3,356.9 L239.7,356.9 L240.0,356.9 L240.4,356.9 L240.8,357.0 L241.2,357.0 L241.6,357.0 L242.0,357.0 L242.3,357.0 L242.7,357.0 L243.1,357.0 L243.5,357.0 L243.9,357.0 L244.3,357.0 L244.6,357.1 L245.0,357.1 L245.4,357.1 L245.8,357.1 L246.2,357.1 L246.6,357.1 L246.9,357.1 L247.3,357.1 L247.7,357.1 L248.1,357.1 L248.5,357.1 L248.9,357.1 L249.2,357.1 L249.6,357.1 L250.0,357.1 L250.4,357.1 L250.8,357.1 L251.2,357.1 L251.6,357.1 L251.9,357.1 L252.3,357.1 L252.7,357.1 L253.1,357.1 L253.5,357.1 L253.9,357.1 L254.2,357.1 L254.6,357.1 L255.0,357.1 L255.4,357.1 L255.8,357.1 L256.2,357.1 L256.5,357.1 L256.9,357.1 L257.3,357.1 L257.7,357.1 L258.1,357.1 L258.5,357.1 L258.8,357.1 L259.2,357.1 L259.6,357.1 L260.0,357.1 L260.4,357.1 L260.8,357.1 L261.1,357.1 L261.5,357.1 L261.9,357.1" fill="none" stroke="#1a1ab8" stroke-width="2.8" stroke-dasharray="9 8.5 1.2 8.5 1.2 8.5" stroke-dashoffset="25.46" stroke-linejoin="round" stroke-linecap="round"/>
<path d="M261.9,357.1 L262.3,357.1 L262.7,357.1 L263.1,357.1 L263.4,357.1 L263.8,357.1 L264.2,357.1 L264.6,357.1 L265.0,357.1 L265.4,357.1 L265.8,357.1 L266.1,357.1 L266.5,357.1 L266.9,357.1 L267.3,357.1 L267.7,357.1 L268.1,357.1 L268.4,357.1 L268.8,357.1 L269.2,357.1 L269.6,357.1 L270.0,357.1 L270.4,357.1 L270.7,357.1 L271.1,357.1 L271.5,357.1 L271.9,357.1 L272.3,357.1 L272.7,357.1 L273.0,357.1 L273.4,357.1 L273.8,357.1 L274.2,357.1 L274.6,357.1 L275.0,357.1 L275.3,357.1 L275.7,357.1 L276.1,357.0 L276.5,356.9 L276.9,356.7 L277.3,356.5 L277.6,356.2 L278.0,356.0 L278.4,355.8 L278.8,355.5 L279.2,355.3 L279.6,355.0 L280.0,354.7 L280.3,354.4 L280.7,354.0 L281.1,353.7 L281.5,353.3 L281.9,353.0 L282.3,352.6 L282.6,352.2 L283.0,351.7 L283.4,351.3 L283.8,350.8 L284.2,350.3 L284.6,349.8 L284.9,349.2 L285.3,348.6 L285.7,348.0 L286.1,347.4 L286.5,346.8 L286.9,346.1 L287.2,345.4 L287.6,344.7 L288.0,343.9 L288.4,343.1 L288.8,342.3 L289.2,341.4 L289.5,340.5 L289.9,339.6 L290.3,338.6 L290.7,337.6 L291.1,336.6 L291.5,335.5 L291.8,334.4 L292.2,333.2 L292.6,332.0 L293.0,330.8 L293.4,329.5 L293.8,328.2 L294.2,326.9 L294.5,325.5 L294.9,324.0 L295.3,322.5 L295.7,321.0 L296.1,319.4 L296.5,317.8 L296.8,316.2 L297.2,314.5 L297.6,312.7 L298.0,310.9 L298.4,309.0 L298.8,307.1 L299.1,305.2 L299.5,303.2 L299.9,301.2 L300.3,299.1 L300.7,297.0 L301.1,294.8 L301.4,292.6 L301.8,290.3 L302.2,288.0 L302.6,285.6 L303.0,283.2 L303.4,280.8 L303.7,278.3 L304.1,275.8 L304.5,273.2 L304.9,270.6 L305.3,267.9 L305.7,265.2 L306.0,262.5 L306.4,259.7 L306.8,256.9 L307.2,254.1 L307.6,251.2 L308.0,248.3 L308.4,245.4 L308.7,242.4 L309.1,239.4 L309.5,236.4 L309.9,233.4 L310.3,230.3 L310.7,227.2 L311.0,224.1 L311.4,221.0 L311.8,217.9 L312.2,214.8 L312.6,211.6 L313.0,208.5 L313.3,205.3 L313.7,202.2 L314.1,199.0 L314.5,195.9 L314.9,192.7 L315.3,189.5 L315.6,186.4 L316.0,183.3 L316.4,180.2 L316.8,177.1 L317.2,174.0 L317.6,170.9 L317.9,167.9 L318.3,164.9 L318.7,161.9 L319.1,159.0 L319.5,156.0 L319.9,153.2 L320.2,150.3 L320.6,147.5 L321.0,144.8 L321.4,142.0 L321.8,139.4 L322.2,136.7 L322.6,134.2 L322.9,131.7 L323.3,129.2 L323.7,126.8 L324.1,124.4 L324.5,122.2 L324.9,119.9 L325.2,117.8 L325.6,115.7 L326.0,113.6 L326.4,111.7 L326.8,109.8 L327.2,108.0 L327.5,106.2 L327.9,104.5 L328.3,102.9 L328.7,101.4 L329.1,100.0 L329.5,98.6 L329.8,97.3 L330.2,96.1 L330.6,94.9 L331.0,93.8 L331.4,92.8 L331.8,91.9 L332.1,91.1 L332.5,90.3 L332.9,89.6 L333.3,89.0 L333.7,88.5 L334.1,88.0 L334.4,87.6 L334.8,87.2 L335.2,87.0 L335.6,86.8 L336.0,86.6 L336.4,86.5 L336.8,86.5 L337.1,86.6 L337.5,86.7 L337.9,87.0 L338.3,87.4 L338.7,87.9 L339.1,88.5 L339.4,89.2 L339.8,89.9 L340.2,90.7 L340.6,91.6 L341.0,92.5 L341.4,93.5 L341.7,94.6 L342.1,95.7 L342.5,96.9 L342.9,98.2 L343.3,99.5 L343.7,100.9 L344.0,102.3 L344.4,103.7 L344.8,105.3 L345.2,106.8 L345.6,108.4 L346.0,110.1 L346.3,111.7 L346.7,113.5 L347.1,115.2 L347.5,117.0 L347.9,118.9 L348.3,120.8 L348.6,122.7 L349.0,124.6 L349.4,126.6 L349.8,128.6 L350.2,130.6 L350.6,132.6 L351.0,134.7 L351.3,136.8 L351.7,138.9 L352.1,141.1 L352.5,143.2 L352.9,145.4 L353.3,147.6 L353.6,149.8 L354.0,152.0 L354.4,154.3 L354.8,156.5 L355.2,158.8 L355.6,161.0 L355.9,163.3 L356.3,165.6 L356.7,167.9 L357.1,170.2 L357.5,172.5 L357.9,174.8 L358.2,177.1 L358.6,179.4 L359.0,181.7 L359.4,184.0 L359.8,186.4 L360.2,188.7 L360.5,191.0 L360.9,193.3 L361.3,195.6 L361.7,197.8 L362.1,200.1 L362.5,202.4 L362.8,204.7 L363.2,206.9 L363.6,209.2 L364.0,211.4 L364.4,213.7 L364.8,215.9 L365.2,218.1 L365.5,220.3 L365.9,222.5 L366.3,224.6 L366.7,226.8 L367.1,228.9 L367.5,231.0 L367.8,233.2 L368.2,235.2 L368.6,237.3 L369.0,239.4 L369.4,241.4 L369.8,243.4 L370.1,245.5 L370.5,247.4 L370.9,249.4 L371.3,251.4 L371.7,253.3 L372.1,255.2 L372.4,257.1 L372.8,259.0 L373.2,260.8 L373.6,262.6 L374.0,264.5 L374.4,266.2 L374.7,268.0 L375.1,269.8 L375.5,271.5 L375.9,273.2 L376.3,274.9 L376.7,276.5 L377.0,278.2 L377.4,279.8 L377.8,281.4 L378.2,282.9 L378.6,284.5 L379.0,286.0 L379.4,287.5 L379.7,289.0 L380.1,290.5 L380.5,291.9 L380.9,293.3 L381.3,294.7 L381.7,296.1 L382.0,297.5 L382.4,298.8 L382.8,300.1 L383.2,301.4 L383.6,302.6 L384.0,303.9 L384.3,305.1 L384.7,306.3 L385.1,307.5 L385.5,308.7 L385.9,309.8 L386.3,310.9 L386.6,312.0 L387.0,313.1 L387.4,314.2 L387.8,315.2 L388.2,316.2 L388.6,317.2 L388.9,318.2 L389.3,319.2 L389.7,320.1 L390.1,321.1 L390.5,322.0 L390.9,322.9 L391.2,323.7 L391.6,324.6 L392.0,325.4 L392.4,326.2 L392.8,327.0 L393.2,327.8 L393.6,328.6 L393.9,329.3 L394.3,330.1 L394.7,330.8 L395.1,331.5 L395.5,332.2 L395.9,332.9 L396.2,333.5 L396.6,334.2 L397.0,334.8 L397.4,335.4 L397.8,336.0 L398.2,336.6 L398.5,337.2 L398.9,337.7 L399.3,338.3 L399.7,338.8 L400.1,339.3 L400.5,339.8 L400.8,340.3 L401.2,340.8 L401.6,341.3 L402.0,341.8 L402.4,342.2 L402.8,342.6 L403.1,343.1 L403.5,343.5 L403.9,343.9 L404.3,344.3 L404.7,344.7 L405.1,345.0 L405.4,345.4 L405.8,345.8 L406.2,346.1 L406.6,346.4 L407.0,346.8 L407.4,347.1 L407.8,347.4 L408.1,347.7 L408.5,348.0 L408.9,348.3 L409.3,348.6 L409.7,348.8 L410.1,349.1 L410.4,349.3 L410.8,349.6 L411.2,349.8 L411.6,350.1 L412.0,350.3 L412.4,350.5 L412.7,350.7 L413.1,350.9 L413.5,351.1 L413.9,351.3 L414.3,351.5 L414.7,351.7 L415.0,351.9 L415.4,352.1 L415.8,352.2 L416.2,352.4 L416.6,352.6 L417.0,352.7 L417.3,352.9 L417.7,353.0 L418.1,353.1 L418.5,353.3 L418.9,353.4 L419.3,353.5 L419.6,353.7 L420.0,353.8 L420.4,353.9 L420.8,354.0 L421.2,354.1 L421.6,354.2 L422.0,354.3 L422.3,354.4 L422.7,354.5 L423.1,354.6 L423.5,354.7 L423.9,354.8 L424.3,354.9 L424.6,355.0 L425.0,355.0 L425.4,355.1 L425.8,355.2 L426.2,355.3 L426.6,355.3 L426.9,355.4 L427.3,355.5 L427.7,355.5 L428.1,355.6 L428.5,355.6 L428.9,355.7 L429.2,355.7 L429.6,355.8 L430.0,355.8 L430.4,355.9 L430.8,355.9 L431.2,356.0 L431.5,356.0 L431.9,356.1 L432.3,356.1 L432.7,356.1 L433.1,356.2 L433.5,356.2 L433.8,356.2 L434.2,356.3 L434.6,356.3 L435.0,356.3 L435.4,356.4 L435.8,356.4 L436.2,356.4 L436.5,356.5 L436.9,356.5 L437.3,356.5 L437.7,356.5 L438.1,356.6 L438.5,356.6 L438.8,356.6 L439.2,356.6 L439.6,356.6 L440.0,356.7 L440.4,356.7 L440.8,356.7 L441.1,356.7 L441.5,356.7 L441.9,356.7 L442.3,356.8 L442.7,356.8 L443.1,356.8 L443.4,356.8 L443.8,356.8 L444.2,356.8 L444.6,356.8 L445.0,356.8 L445.4,356.9 L445.7,356.9 L446.1,356.9 L446.5,356.9 L446.9,356.9 L447.3,356.9 L447.7,356.9 L448.0,356.9 L448.4,356.9 L448.8,356.9 L449.2,356.9 L449.6,356.9 L450.0,357.0 L450.4,357.0 L450.7,357.0 L451.1,357.0 L451.5,357.0 L451.9,357.0 L452.3,357.0 L452.7,357.0 L453.0,357.0 L453.4,357.0 L453.8,357.0 L454.2,357.0 L454.6,357.0 L455.0,357.0 L455.3,357.0 L455.7,357.0 L456.1,357.0 L456.5,357.0 L456.9,357.0 L457.3,357.0 L457.6,357.0 L458.0,357.0 L458.4,357.0 L458.8,357.1 L459.2,357.1 L459.6,357.1 L459.9,357.1 L460.3,357.1 L460.7,357.1 L461.1,357.1 L461.5,357.1 L461.9,357.1 L462.2,357.1 L462.6,357.1 L463.0,357.1 L463.4,357.1 L463.8,357.1 L464.2,357.1 L464.6,357.1 L464.9,357.1 L465.3,357.1 L465.7,357.1 L466.1,357.1 L466.5,357.1 L466.9,357.1 L467.2,357.1 L467.6,357.1 L468.0,357.1 L468.4,357.1 L468.8,357.1 L469.2,357.1 L469.5,357.1 L469.9,357.1 L470.3,357.1 L470.7,357.1 L471.1,357.1 L471.5,357.1 L471.8,357.1 L472.2,357.1 L472.6,357.1 L473.0,357.1 L473.4,357.1 L473.8,357.1 L474.1,357.1 L474.5,357.1 L474.9,357.1 L475.3,357.1 L475.7,357.1 L476.1,357.1 L476.4,357.1 L476.8,357.1 L477.2,357.1 L477.6,357.1 L478.0,357.1 L478.4,357.1 L478.8,357.1 L479.1,357.1 L479.5,357.1 L479.9,357.1 L480.3,357.1 L480.7,357.1 L481.1,357.1 L481.4,357.1 L481.8,357.1 L482.2,357.1 L482.6,357.1 L483.0,357.1 L483.4,357.1 L483.7,357.1 L484.1,357.1 L484.5,357.1 L484.9,357.1 L485.3,357.1 L485.7,357.1 L486.0,357.1 L486.4,357.1 L486.8,357.1 L487.2,357.1 L487.6,357.1 L488.0,357.1 L488.3,357.1 L488.7,357.1 L489.1,357.1 L489.5,357.1 L489.9,357.1 L490.3,357.1 L490.6,357.1 L491.0,357.1 L491.4,357.1 L491.8,357.1 L492.2,357.1 L492.6,357.1 L493.0,357.1 L493.3,357.1 L493.7,357.1 L494.1,357.1 L494.5,357.1 L494.9,357.1 L495.3,357.1 L495.6,357.1 L496.0,357.1 L496.4,357.1 L496.8,357.1 L497.2,357.1 L497.6,357.1 L497.9,357.1 L498.3,357.1 L498.7,357.1 L499.1,357.1 L499.5,357.1 L499.9,357.1 L500.2,357.1 L500.6,357.1 L501.0,357.1 L501.4,357.1 L501.8,357.1 L502.2,357.1 L502.5,357.1 L502.9,357.1 L503.3,357.1 L503.7,357.1 L504.1,357.1 L504.5,357.1 L504.8,357.1 L505.2,357.1 L505.6,357.1 L506.0,357.1" fill="none" stroke="#1a1ab8" stroke-width="2.8" stroke-dasharray="9 8.5 1.2 8.5 1.2 8.5" stroke-dashoffset="9.83" stroke-linejoin="round" stroke-linecap="round"/>
<path d="M73.35,357.1 H507.35" stroke="#000" stroke-width="2.7" fill="none"/>
<path d="M122.60,357.1 H504.65" stroke="#0c0c58" stroke-width="2.7" fill="none"/>
<text x="74.70" y="375.10" text-anchor="middle" font-size="12.7">0.00</text>
<text x="170.54" y="375.10" text-anchor="middle" font-size="12.7">0.02</text>
<text x="266.39" y="375.10" text-anchor="middle" font-size="12.7">0.04</text>
<text x="362.23" y="375.10" text-anchor="middle" font-size="12.7">0.06</text>
<text x="458.08" y="375.10" text-anchor="middle" font-size="12.7">0.08</text>
<text x="66.50" y="360.25" text-anchor="end" font-size="12.7">0</text>
<text x="66.50" y="316.55" text-anchor="end" font-size="12.7">25</text>
<text x="66.50" y="272.85" text-anchor="end" font-size="12.7">50</text>
<text x="66.50" y="229.15" text-anchor="end" font-size="12.7">75</text>
<text x="66.50" y="185.45" text-anchor="end" font-size="12.7">100</text>
<text x="66.50" y="141.75" text-anchor="end" font-size="12.7">125</text>
<text x="66.50" y="98.05" text-anchor="end" font-size="12.7">150</text>
<text x="66.50" y="54.35" text-anchor="end" font-size="12.7">175</text>
<text x="66.50" y="10.65" text-anchor="end" font-size="12.7">200</text>
<text x="197.3" y="79.8" font-size="14.4">InN/GaN QD</text>
<text x="372" y="163.5" font-size="14.4">InAs/GaAs QD</text>
<text x="290.1" y="394.5" text-anchor="middle" font-size="14.6">Conductionband intersubband transition energy(in eV)</text>
<text transform="translate(33.8,194) rotate(-90) scale(1,1.02)" text-anchor="middle" font-size="15.07">Optical absorption coefficient(nm<tspan dy="-8.8" font-size="8.8">-1</tspan><tspan dy="8.8">)</tspan></text>
<path d="M356.2,17.1 H392" stroke="#000" stroke-width="2.7" fill="none"/>
<text x="394.3" y="22.7" font-size="14.45"><tspan dy="-0.65" font-weight="normal" font-family="Liberation Serif, serif" font-size="13.4" stroke="#000" stroke-width="0.4">γ</tspan><tspan dy="6.43" font-size="8.7" stroke="#000" stroke-width="0.3">x</tspan><tspan dy="-5.78" dx="0.5">=5/20;</tspan><tspan dy="-0.65" font-weight="normal" font-family="Liberation Serif, serif" font-size="13.4" stroke="#000" stroke-width="0.4">γ</tspan><tspan dy="6.43" font-size="8.7" stroke="#000" stroke-width="0.3">y</tspan><tspan dy="-5.78" dx="0.5">=5/20</tspan></text>
<path d="M356.2,41.7 H392" stroke="#d4141e" stroke-width="2.5" stroke-dasharray="12.3 11.7" fill="none"/>
<text x="394.3" y="47.3" font-size="14.45"><tspan dy="-0.65" font-weight="normal" font-family="Liberation Serif, serif" font-size="13.4" stroke="#000" stroke-width="0.4">γ</tspan><tspan dy="6.43" font-size="8.7" stroke="#000" stroke-width="0.3">x</tspan><tspan dy="-5.78" dx="0.5">=5/20;</tspan><tspan dy="-0.65" font-weight="normal" font-family="Liberation Serif, serif" font-size="13.4" stroke="#000" stroke-width="0.4">γ</tspan><tspan dy="6.43" font-size="8.7" stroke="#000" stroke-width="0.3">y</tspan><tspan dy="-5.78" dx="0.5">=5/50</tspan></text>
<path d="M356.2,65.8 H392" stroke="#1a1ab8" stroke-width="2.7" stroke-dasharray="12 5 4 5.5 4 5.5" fill="none"/>
<text x="394.3" y="71.4" font-size="14.45"><tspan dy="-0.65" font-weight="normal" font-family="Liberation Serif, serif" font-size="13.4" stroke="#000" stroke-width="0.4">γ</tspan><tspan dy="6.43" font-size="8.7" stroke="#000" stroke-width="0.3">x</tspan><tspan dy="-5.78" dx="0.5">=5/20;</tspan><tspan dy="-0.65" font-weight="normal" font-family="Liberation Serif, serif" font-size="13.4" stroke="#000" stroke-width="0.4">γ</tspan><tspan dy="6.43" font-size="8.7" stroke="#000" stroke-width="0.3">y</tspan><tspan dy="-5.78" dx="0.5">=5/100</tspan></text>
<path d="M66.0,769.3 L66.0,423.4 L502.6,423.4 L502.6,769.3 Z" fill="none" stroke="#000" stroke-width="2.7" stroke-linejoin="miter"/>
<path d="M109.66,769.3 v-4.5 M153.32,769.3 v-7.6 M196.98,769.3 v-4.5 M240.64,769.3 v-7.6 M284.30,769.3 v-4.5 M327.96,769.3 v-7.6 M371.62,769.3 v-4.5 M415.28,769.3 v-7.6 M458.94,769.3 v-4.5 M66.0,726.06 h4.5 M66.0,682.82 h7.6 M66.0,639.59 h4.5 M66.0,596.35 h7.6 M66.0,553.11 h4.5 M66.0,509.87 h7.6 M66.0,466.64 h4.5" stroke="#000" stroke-width="2.2" fill="none"/>
<path d="M66.0,769.3 L66.4,769.3 L66.9,769.3 L67.3,769.3 L67.7,769.3 L68.2,769.3 L68.6,769.3 L69.1,769.3 L69.5,769.3 L69.9,769.3 L70.4,769.3 L70.8,769.3 L71.2,769.3 L71.7,769.3 L72.1,769.3 L72.6,769.3 L73.0,769.3 L73.4,769.3 L73.9,769.3 L74.3,769.3 L74.7,769.3 L75.2,769.3 L75.6,769.3 L76.1,769.3 L76.5,769.3 L76.9,769.3 L77.4,769.3 L77.8,769.3 L78.2,769.3 L78.7,769.3 L79.1,769.3 L79.5,769.3 L80.0,769.3 L80.4,769.3 L80.9,769.3 L81.3,769.3 L81.7,769.3 L82.2,769.3 L82.6,769.3 L83.0,769.3 L83.5,769.3 L83.9,769.3 L84.4,769.3 L84.8,769.3 L85.2,769.3 L85.7,769.3 L86.1,769.3 L86.5,769.3 L87.0,769.3 L87.4,769.3 L87.9,769.3 L88.3,769.3 L88.7,769.3 L89.2,769.3 L89.6,769.3 L90.0,769.3 L90.5,769.3 L90.9,769.3 L91.3,769.3 L91.8,769.3 L92.2,769.3 L92.7,769.3 L93.1,769.3 L93.5,769.3 L94.0,769.3 L94.4,769.3 L94.8,769.3 L95.3,769.3 L95.7,769.3 L96.2,769.3 L96.6,769.3 L97.0,769.3 L97.5,769.3 L97.9,769.3 L98.3,769.3 L98.8,769.3 L99.2,769.3 L99.7,769.3 L100.1,769.3 L100.5,769.3 L101.0,769.3 L101.4,769.3 L101.8,769.3 L102.3,769.3 L102.7,769.3 L103.1,769.3 L103.6,769.3 L104.0,769.3 L104.5,769.3 L104.9,769.3 L105.3,769.3 L105.8,769.3 L106.2,769.3 L106.6,769.3 L107.1,769.3 L107.5,769.3 L108.0,769.3 L108.4,769.3 L108.8,769.3 L109.3,769.3 L109.7,769.3 L110.1,769.3 L110.6,769.3 L111.0,769.3 L111.5,769.3 L111.9,769.3 L112.3,769.3 L112.8,769.3 L113.2,769.3 L113.6,769.3 L114.1,769.3 L114.5,769.3 L114.9,769.3 L115.4,769.3 L115.8,769.3 L116.3,769.3 L116.7,769.3 L117.1,769.3 L117.6,769.3 L118.0,769.3 L118.4,769.3 L118.9,769.3 L119.3,769.3 L119.8,769.3 L120.2,769.3 L120.6,769.3 L121.1,769.3 L121.5,769.3 L121.9,769.3 L122.4,769.3 L122.8,769.2 L123.3,768.5 L123.7,767.7 L124.1,766.7 L124.6,765.5 L125.0,764.2 L125.4,762.6 L125.9,760.7 L126.3,758.6 L126.7,756.2 L127.2,753.4 L127.6,750.4 L128.1,747.0 L128.5,743.3 L128.9,739.3 L129.4,734.9 L129.8,730.3 L130.2,725.3 L130.7,720.2 L131.1,714.8 L131.6,709.3 L132.0,703.6 L132.4,698.0 L132.9,692.3 L133.3,686.7 L133.7,681.2 L134.2,676.0 L134.6,671.0 L135.1,666.3 L135.5,662.0 L135.9,658.1 L136.4,654.7 L136.8,651.7 L137.2,649.3 L137.7,647.3 L138.1,645.8 L138.5,644.8 L139.0,644.2 L139.4,643.9 L139.9,644.0 L140.3,644.6 L140.7,645.6 L141.2,646.9 L141.6,648.7 L142.0,650.8 L142.5,653.3 L142.9,656.0 L143.4,659.0 L143.8,662.2 L144.2,665.7 L144.7,669.3 L145.1,673.1 L145.5,677.0 L146.0,681.0 L146.4,685.0 L146.9,689.1 L147.3,693.3 L147.7,697.3 L148.2,701.4 L148.6,705.4 L149.0,709.4 L149.5,713.2 L149.9,716.9 L150.3,720.6 L150.8,724.1 L151.2,727.4 L151.7,730.6 L152.1,733.7 L152.5,736.6 L153.0,739.3 L153.4,741.9 L153.8,744.3 L154.3,746.6 L154.7,748.7 L155.2,750.7 L155.6,752.5 L156.0,754.2 L156.5,755.7 L156.9,757.2 L157.3,758.5 L157.8,759.7 L158.2,760.7 L158.7,761.7 L159.1,762.6 L159.5,763.4 L160.0,764.1 L160.4,764.7 L160.8,765.3 L161.3,765.8 L161.7,766.3 L162.1,766.7 L162.6,767.0 L163.0,767.3 L163.5,767.6 L163.9,767.8 L164.3,768.0 L164.8,768.2 L165.2,768.4 L165.6,768.5 L166.1,768.6 L166.5,768.7 L167.0,768.8 L167.4,768.9 L167.8,769.0 L168.3,769.0 L168.7,769.1 L169.1,769.1 L169.6,769.1 L170.0,769.2 L170.5,769.2 L170.9,769.2 L171.3,769.2 L171.8,769.2 L172.2,769.2 L172.6,769.3 L173.1,769.3 L173.5,769.3 L173.9,769.3 L174.4,769.3 L174.8,769.3 L175.3,769.3 L175.7,769.3 L176.1,769.3 L176.6,769.3 L177.0,769.3 L177.4,769.3 L177.9,769.3 L178.3,769.3 L178.8,769.3 L179.2,769.3 L179.6,769.3 L180.1,769.3 L180.5,769.3 L180.9,769.3 L181.4,769.3 L181.8,769.3 L182.3,769.3 L182.7,769.3 L183.1,769.3 L183.6,769.3 L184.0,769.3 L184.4,769.3 L184.9,769.3 L185.3,769.3 L185.7,769.3 L186.2,769.3 L186.6,769.3 L187.1,769.3 L187.5,769.3 L187.9,769.3 L188.4,769.3 L188.8,769.3 L189.2,769.3 L189.7,769.3 L190.1,769.3 L190.6,769.3 L191.0,769.3 L191.4,769.3 L191.9,769.3 L192.3,769.3 L192.7,769.3 L193.2,769.3 L193.6,769.3 L194.1,769.3 L194.5,769.3 L194.9,769.3 L195.4,769.3 L195.8,769.3 L196.2,769.3 L196.7,769.3 L197.1,769.3 L197.5,769.3 L198.0,769.3 L198.4,769.3 L198.9,769.3 L199.3,769.3 L199.7,769.3 L200.2,769.3 L200.6,769.3 L201.0,769.3 L201.5,769.3 L201.9,769.3 L202.4,769.3 L202.8,769.3 L203.2,769.3 L203.7,769.3 L204.1,769.3 L204.5,769.3 L205.0,769.3 L205.4,769.3 L205.9,769.3 L206.3,769.3 L206.7,769.3 L207.2,769.3 L207.6,769.3 L208.0,769.3 L208.5,769.3 L208.9,769.3 L209.3,769.3 L209.8,769.3 L210.2,769.3 L210.7,769.3 L211.1,769.3 L211.5,769.3 L212.0,769.3 L212.4,769.3 L212.8,769.3 L213.3,769.3 L213.7,769.3 L214.2,769.3 L214.6,769.3 L215.0,769.3 L215.5,769.3 L215.9,769.3 L216.3,769.3 L216.8,769.3 L217.2,769.3 L217.7,769.3 L218.1,769.3 L218.5,769.3 L219.0,769.3 L219.4,769.3 L219.8,769.3 L220.3,769.3 L220.7,769.3 L221.1,769.3 L221.6,769.3 L222.0,769.3 L222.5,769.3 L222.9,769.3 L223.3,769.3 L223.8,769.3 L224.2,769.3 L224.6,769.3 L225.1,769.3 L225.5,769.3 L226.0,769.3 L226.4,769.3 L226.8,769.3 L227.3,769.3 L227.7,769.3 L228.1,769.3 L228.6,769.3 L229.0,769.3 L229.5,769.3 L229.9,769.3 L230.3,769.3 L230.8,769.3 L231.2,769.3 L231.6,769.3 L232.1,769.3 L232.5,769.3 L232.9,769.3 L233.4,769.3 L233.8,769.3 L234.3,769.3 L234.7,769.3 L235.1,769.3 L235.6,769.3 L236.0,769.3 L236.4,769.3 L236.9,769.3 L237.3,769.3 L237.8,769.3 L238.2,769.3 L238.6,769.3 L239.1,769.3 L239.5,769.3 L239.9,769.3 L240.4,769.3 L240.8,769.3 L241.3,769.3 L241.7,769.3 L242.1,769.3 L242.6,769.3 L243.0,769.3 L243.4,769.3 L243.9,769.3 L244.3,769.3 L244.7,769.3 L245.2,769.3 L245.6,769.3 L246.1,769.3 L246.5,769.3 L246.9,769.3 L247.4,769.3 L247.8,769.3 L248.2,769.3 L248.7,769.3 L249.1,769.3 L249.6,769.3 L250.0,769.3 L250.4,769.3 L250.9,769.3 L251.3,769.3 L251.7,769.3 L252.2,769.3 L252.6,769.3 L253.1,769.3 L253.5,769.3 L253.9,769.3 L254.4,769.3 L254.8,769.3 L255.2,769.3 L255.7,769.3 L256.1,769.3 L256.5,769.3 L257.0,769.3 L257.4,769.3 L257.9,769.3 L258.3,769.3 L258.7,769.3 L259.2,769.3 L259.6,769.3 L260.0,769.3 L260.5,769.3 L260.9,769.3 L261.4,769.3 L261.8,769.3 L262.2,769.3 L262.7,769.1 L263.1,769.0 L263.5,768.9 L264.0,768.8 L264.4,768.7 L264.9,768.6 L265.3,768.5 L265.7,768.3 L266.2,768.2 L266.6,768.1 L267.0,767.9 L267.5,767.8 L267.9,767.7 L268.3,767.5 L268.8,767.4 L269.2,767.3 L269.7,767.1 L270.1,767.0 L270.5,766.8 L271.0,766.7 L271.4,766.5 L271.8,766.4 L272.3,766.2 L272.7,766.0 L273.2,765.9 L273.6,765.7 L274.0,765.5 L274.5,765.4 L274.9,765.2 L275.3,765.0 L275.8,764.8 L276.2,764.7 L276.7,764.5 L277.1,764.3 L277.5,764.1 L278.0,763.9 L278.4,763.7 L278.8,763.5 L279.3,763.3 L279.7,763.1 L280.1,762.9 L280.6,762.7 L281.0,762.5 L281.5,762.3 L281.9,762.1 L282.3,761.8 L282.8,761.6 L283.2,761.4 L283.6,761.2 L284.1,761.0 L284.5,760.7 L285.0,760.5 L285.4,760.3 L285.8,760.0 L286.3,759.8 L286.7,759.6 L287.1,759.3 L287.6,759.1 L288.0,758.8 L288.5,758.6 L288.9,758.3 L289.3,758.1 L289.8,757.8 L290.2,757.6 L290.6,757.3 L291.1,757.0 L291.5,756.8 L291.9,756.5 L292.4,756.3 L292.8,756.0 L293.3,755.7 L293.7,755.5 L294.1,755.2 L294.6,754.9 L295.0,754.6 L295.4,754.4 L295.9,754.1 L296.3,753.8 L296.8,753.5 L297.2,753.3 L297.6,753.0 L298.1,752.7 L298.5,752.4 L298.9,752.2 L299.4,751.9 L299.8,751.6 L300.3,751.3 L300.7,751.0 L301.1,750.7 L301.6,750.5 L302.0,750.2 L302.4,749.9 L302.9,749.6 L303.3,749.3 L303.7,749.0 L304.2,748.8 L304.6,748.5 L305.1,748.2 L305.5,747.9 L305.9,747.6 L306.4,747.4 L306.8,747.1 L307.2,746.8 L307.7,746.5 L308.1,746.3 L308.6,746.0 L309.0,745.7 L309.4,745.5 L309.9,745.2 L310.3,744.9 L310.7,744.7 L311.2,744.4 L311.6,744.1 L312.1,743.9 L312.5,743.6 L312.9,743.4 L313.4,743.1 L313.8,742.9 L314.2,742.6 L314.7,742.4 L315.1,742.1 L315.5,741.9 L316.0,741.6 L316.4,741.4 L316.9,741.2 L317.3,740.9 L317.7,740.7 L318.2,740.5 L318.6,740.3 L319.0,740.1 L319.5,739.9 L319.9,739.7 L320.4,739.5 L320.8,739.3 L321.2,739.1 L321.7,738.9 L322.1,738.7 L322.5,738.5 L323.0,738.3 L323.4,738.1 L323.9,738.0 L324.3,737.8 L324.7,737.7 L325.2,737.5 L325.6,737.3 L326.0,737.2 L326.5,737.1 L326.9,736.9 L327.3,736.8 L327.8,736.7 L328.2,736.5 L328.7,736.4 L329.1,736.3 L329.5,736.2 L330.0,736.1 L330.4,736.0 L330.8,735.9 L331.3,735.8 L331.7,735.8 L332.2,735.7 L332.6,735.6 L333.0,735.6 L333.5,735.5 L333.9,735.4 L334.3,735.4 L334.8,735.4 L335.2,735.3 L335.7,735.3 L336.1,735.3 L336.5,735.2 L337.0,735.2 L337.4,735.2 L337.8,735.2 L338.3,735.2 L338.7,735.2 L339.1,735.3 L339.6,735.3 L340.0,735.3 L340.5,735.3 L340.9,735.3 L341.3,735.4 L341.8,735.4 L342.2,735.4 L342.6,735.5 L343.1,735.5 L343.5,735.6 L344.0,735.6 L344.4,735.7 L344.8,735.8 L345.3,735.8 L345.7,735.9 L346.1,736.0 L346.6,736.0 L347.0,736.1 L347.5,736.2 L347.9,736.3 L348.3,736.4 L348.8,736.5 L349.2,736.6 L349.6,736.7 L350.1,736.8 L350.5,736.9 L350.9,737.0 L351.4,737.1 L351.8,737.2 L352.3,737.4 L352.7,737.5 L353.1,737.6 L353.6,737.8 L354.0,737.9 L354.4,738.0 L354.9,738.2 L355.3,738.3 L355.8,738.5 L356.2,738.6 L356.6,738.8 L357.1,738.9 L357.5,739.1 L357.9,739.2 L358.4,739.4 L358.8,739.6 L359.3,739.7 L359.7,739.9 L360.1,740.1 L360.6,740.3 L361.0,740.4 L361.4,740.6 L361.9,740.8 L362.3,741.0 L362.7,741.2 L363.2,741.4 L363.6,741.6 L364.1,741.8 L364.5,742.0 L364.9,742.2 L365.4,742.4 L365.8,742.6 L366.2,742.8 L366.7,743.0 L367.1,743.2 L367.6,743.4 L368.0,743.6 L368.4,743.8 L368.9,744.0 L369.3,744.2 L369.7,744.4 L370.2,744.6 L370.6,744.9 L371.1,745.1 L371.5,745.3 L371.9,745.5 L372.4,745.7 L372.8,745.9 L373.2,746.2 L373.7,746.4 L374.1,746.6 L374.5,746.8 L375.0,747.0 L375.4,747.3 L375.9,747.5 L376.3,747.7 L376.7,747.9 L377.2,748.2 L377.6,748.4 L378.0,748.6 L378.5,748.8 L378.9,749.1 L379.4,749.3 L379.8,749.5 L380.2,749.7 L380.7,749.9 L381.1,750.2 L381.5,750.4 L382.0,750.6 L382.4,750.8 L382.9,751.1 L383.3,751.3 L383.7,751.5 L384.2,751.7 L384.6,751.9 L385.0,752.1 L385.5,752.4 L385.9,752.6 L386.3,752.8 L386.8,753.0 L387.2,753.2 L387.7,753.4 L388.1,753.7 L388.5,753.9 L389.0,754.1 L389.4,754.3 L389.8,754.5 L390.3,754.7 L390.7,754.9 L391.2,755.1 L391.6,755.3 L392.0,755.5 L392.5,755.7 L392.9,755.9 L393.3,756.1 L393.8,756.3 L394.2,756.5 L394.7,756.7 L395.1,756.9 L395.5,757.1 L396.0,757.3 L396.4,757.4 L396.8,757.6 L397.3,757.8 L397.7,758.0 L398.1,758.2 L398.6,758.4 L399.0,758.5 L399.5,758.7 L399.9,758.9 L400.3,759.1 L400.8,759.2 L401.2,759.4 L401.6,759.6 L402.1,759.7 L402.5,759.9 L403.0,760.1 L403.4,760.2 L403.8,760.4 L404.3,760.5 L404.7,760.7 L405.1,760.8 L405.6,761.0 L406.0,761.1 L406.5,761.3 L406.9,761.4 L407.3,761.6 L407.8,761.7 L408.2,761.9 L408.6,762.0 L409.1,762.1 L409.5,762.3 L409.9,762.4 L410.4,762.5 L410.8,762.7 L411.3,762.8 L411.7,762.9 L412.1,763.1 L412.6,763.2 L413.0,763.3 L413.4,763.4 L413.9,763.5 L414.3,763.7 L414.8,763.8 L415.2,763.9 L415.6,764.0 L416.1,764.1 L416.5,764.2 L416.9,764.3 L417.4,764.4 L417.8,764.5 L418.3,764.6 L418.7,764.7 L419.1,764.8 L419.6,764.9 L420.0,765.0 L420.4,765.1 L420.9,765.2 L421.3,765.3 L421.7,765.4 L422.2,765.5 L422.6,765.6 L423.1,765.6 L423.5,765.7 L423.9,765.8 L424.4,765.9 L424.8,766.0 L425.2,766.0 L425.7,766.1 L426.1,766.2 L426.6,766.3 L427.0,766.3 L427.4,766.4 L427.9,766.5 L428.3,766.5 L428.7,766.6 L429.2,766.7 L429.6,766.7 L430.1,766.8 L430.5,766.9 L430.9,766.9 L431.4,767.0 L431.8,767.0 L432.2,767.1 L432.7,767.2 L433.1,767.2 L433.5,767.3 L434.0,767.3 L434.4,767.4 L434.9,767.4 L435.3,767.5 L435.7,767.5 L436.2,767.6 L436.6,767.6 L437.0,767.6 L437.5,767.7 L437.9,767.7 L438.4,767.8 L438.8,767.8 L439.2,767.9 L439.7,767.9 L440.1,767.9 L440.5,768.0 L441.0,768.0 L441.4,768.0 L441.9,768.1 L442.3,768.1 L442.7,768.1 L443.2,768.2 L443.6,768.2 L444.0,768.2 L444.5,768.3 L444.9,768.3 L445.3,768.3 L445.8,768.3 L446.2,768.4 L446.7,768.4 L447.1,768.4 L447.5,768.5 L448.0,768.5 L448.4,768.5 L448.8,768.5 L449.3,768.5 L449.7,768.6 L450.2,768.6 L450.6,768.6 L451.0,768.6 L451.5,768.7 L451.9,768.7 L452.3,768.7 L452.8,768.7 L453.2,768.7 L453.7,768.7 L454.1,768.8 L454.5,768.8 L455.0,768.8 L455.4,768.8 L455.8,768.8 L456.3,768.8 L456.7,768.9 L457.1,768.9 L457.6,768.9 L458.0,768.9 L458.5,768.9 L458.9,768.9 L459.3,768.9 L459.8,768.9 L460.2,769.0 L460.6,769.0 L461.1,769.0 L461.5,769.0 L462.0,769.0 L462.4,769.0 L462.8,769.0 L463.3,769.0 L463.7,769.0 L464.1,769.0 L464.6,769.1 L465.0,769.1 L465.5,769.1 L465.9,769.1 L466.3,769.1 L466.8,769.1 L467.2,769.1 L467.6,769.1 L468.1,769.1 L468.5,769.1 L468.9,769.1 L469.4,769.1 L469.8,769.1 L470.3,769.1 L470.7,769.1 L471.1,769.2 L471.6,769.2 L472.0,769.2 L472.4,769.2 L472.9,769.2 L473.3,769.2 L473.8,769.2 L474.2,769.2 L474.6,769.2 L475.1,769.2 L475.5,769.2 L475.9,769.2 L476.4,769.2 L476.8,769.2 L477.3,769.2 L477.7,769.2 L478.1,769.2 L478.6,769.2 L479.0,769.2 L479.4,769.2 L479.9,769.2 L480.3,769.2 L480.7,769.2 L481.2,769.2 L481.6,769.2 L482.1,769.2 L482.5,769.2 L482.9,769.2 L483.4,769.2 L483.8,769.3 L484.2,769.3 L484.7,769.3 L485.1,769.3 L485.6,769.3 L486.0,769.3 L486.4,769.3 L486.9,769.3 L487.3,769.3 L487.7,769.3 L488.2,769.3 L488.6,769.3 L489.1,769.3 L489.5,769.3 L489.9,769.3 L490.4,769.3 L490.8,769.3 L491.2,769.3 L491.7,769.3 L492.1,769.3 L492.5,769.3 L493.0,769.3 L493.4,769.3 L493.9,769.3 L494.3,769.3 L494.7,769.3 L495.2,769.3 L495.6,769.3 L496.0,769.3 L496.5,769.3 L496.9,769.3 L497.4,769.3 L497.8,769.3 L498.2,769.3 L498.7,769.3 L499.1,769.3 L499.5,769.3 L500.0,769.3 L500.4,769.3 L500.9,769.3 L501.3,769.3 L501.7,769.3 L502.2,769.3 L502.6,769.3" fill="none" stroke="#000" stroke-width="2.7" stroke-linejoin="round"/>
<path d="M66.0,769.3 L66.4,769.3 L66.9,769.3 L67.3,769.3 L67.7,769.3 L68.2,769.3 L68.6,769.3 L69.1,769.3 L69.5,769.3 L69.9,769.3 L70.4,769.3 L70.8,769.3 L71.2,769.3 L71.7,769.3 L72.1,769.3 L72.6,769.3 L73.0,769.3 L73.4,769.3 L73.9,769.3 L74.3,769.3 L74.7,769.3 L75.2,769.3 L75.6,769.3 L76.1,769.3 L76.5,769.3 L76.9,769.3 L77.4,769.3 L77.8,769.3 L78.2,769.3 L78.7,769.3 L79.1,769.3 L79.5,769.3 L80.0,769.3 L80.4,769.3 L80.9,769.3 L81.3,769.3 L81.7,769.3 L82.2,769.3 L82.6,769.3 L83.0,769.3 L83.5,769.3 L83.9,769.3 L84.4,769.3 L84.8,769.3 L85.2,769.3 L85.7,769.3 L86.1,769.3 L86.5,769.3 L87.0,769.3 L87.4,769.3 L87.9,769.3 L88.3,769.3 L88.7,769.3 L89.2,769.3 L89.6,769.3 L90.0,769.3 L90.5,769.3 L90.9,769.3 L91.3,769.3 L91.8,769.3 L92.2,769.3 L92.7,769.3 L93.1,769.3 L93.5,769.3 L94.0,769.3 L94.4,769.3 L94.8,769.3 L95.3,769.3 L95.7,769.3 L96.2,769.3 L96.6,769.3 L97.0,769.3 L97.5,769.3 L97.9,769.3 L98.3,769.3 L98.8,769.3 L99.2,769.3 L99.7,769.3 L100.1,769.3 L100.5,769.3 L101.0,769.3 L101.4,769.3 L101.8,769.3 L102.3,769.3 L102.7,769.3 L103.1,769.3 L103.6,769.3 L104.0,769.3 L104.5,769.3 L104.9,769.3 L105.3,769.3 L105.8,769.3 L106.2,769.3 L106.6,769.3 L107.1,769.3 L107.5,769.3 L108.0,769.3 L108.4,769.3 L108.8,769.3 L109.3,769.3 L109.7,769.3 L110.1,769.3 L110.6,769.3 L111.0,769.3 L111.5,769.3 L111.9,769.3 L112.3,769.3 L112.8,769.3 L113.2,769.3 L113.6,769.3 L114.1,769.3 L114.5,769.3 L114.9,769.3 L115.4,769.3 L115.8,769.3 L116.3,769.3 L116.7,769.3 L117.1,769.3 L117.6,769.3 L118.0,769.3 L118.4,769.3 L118.9,769.3 L119.3,769.3 L119.8,769.3 L120.2,769.3 L120.6,769.3 L121.1,769.3 L121.5,769.3 L121.9,769.3 L122.4,769.3 L122.8,768.6 L123.3,767.6 L123.7,766.5 L124.1,765.2 L124.6,763.6 L125.0,761.8 L125.4,759.7 L125.9,757.3 L126.3,754.5 L126.7,751.4 L127.2,748.0 L127.6,744.1 L128.1,739.9 L128.5,735.2 L128.9,730.2 L129.4,724.8 L129.8,719.0 L130.2,713.0 L130.7,706.7 L131.1,700.1 L131.6,693.3 L132.0,686.5 L132.4,679.6 L132.9,672.7 L133.3,665.9 L133.7,659.2 L134.2,652.8 L134.6,646.7 L135.1,641.0 L135.5,635.7 L135.9,630.8 L136.4,626.5 L136.8,622.8 L137.2,619.6 L137.7,617.0 L138.1,615.0 L138.5,613.6 L139.0,612.6 L139.4,612.2 L139.9,612.1 L140.3,612.5 L140.7,613.4 L141.2,614.9 L141.6,616.8 L142.0,619.1 L142.5,621.9 L142.9,625.0 L143.4,628.5 L143.8,632.2 L144.2,636.3 L144.7,640.6 L145.1,645.1 L145.5,649.7 L146.0,654.5 L146.4,659.4 L146.9,664.4 L147.3,669.4 L147.7,674.4 L148.2,679.4 L148.6,684.4 L149.0,689.3 L149.5,694.1 L149.9,698.8 L150.3,703.4 L150.8,707.8 L151.2,712.1 L151.7,716.2 L152.1,720.2 L152.5,723.9 L153.0,727.5 L153.4,730.9 L153.8,734.1 L154.3,737.1 L154.7,740.0 L155.2,742.6 L155.6,745.1 L156.0,747.4 L156.5,749.5 L156.9,751.5 L157.3,753.3 L157.8,754.9 L158.2,756.5 L158.7,757.8 L159.1,759.1 L159.5,760.3 L160.0,761.3 L160.4,762.2 L160.8,763.1 L161.3,763.8 L161.7,764.5 L162.1,765.1 L162.6,765.6 L163.0,766.1 L163.5,766.5 L163.9,766.9 L164.3,767.2 L164.8,767.5 L165.2,767.7 L165.6,768.0 L166.1,768.2 L166.5,768.3 L167.0,768.5 L167.4,768.6 L167.8,768.7 L168.3,768.8 L168.7,768.9 L169.1,768.9 L169.6,769.0 L170.0,769.0 L170.5,769.1 L170.9,769.1 L171.3,769.2 L171.8,769.2 L172.2,769.2 L172.6,769.2 L173.1,769.2 L173.5,769.2 L173.9,769.3 L174.4,769.3 L174.8,769.3 L175.3,769.3 L175.7,769.3 L176.1,769.3 L176.6,769.3 L177.0,769.3 L177.4,769.3 L177.9,769.3 L178.3,769.3 L178.8,769.3 L179.2,769.3 L179.6,769.3 L180.1,769.3 L180.5,769.3 L180.9,769.3 L181.4,769.3 L181.8,769.3 L182.3,769.3 L182.7,769.3 L183.1,769.3 L183.6,769.3 L184.0,769.3 L184.4,769.3 L184.9,769.3 L185.3,769.3 L185.7,769.3 L186.2,769.3 L186.6,769.3 L187.1,769.3 L187.5,769.3 L187.9,769.3 L188.4,769.3 L188.8,769.3 L189.2,769.3 L189.7,769.3 L190.1,769.3 L190.6,769.3 L191.0,769.3 L191.4,769.3 L191.9,769.3 L192.3,769.3 L192.7,769.3 L193.2,769.3 L193.6,769.3 L194.1,769.3 L194.5,769.3 L194.9,769.3 L195.4,769.3 L195.8,769.3 L196.2,769.3 L196.7,769.3 L197.1,769.3 L197.5,769.3 L198.0,769.3 L198.4,769.3 L198.9,769.3 L199.3,769.3 L199.7,769.3 L200.2,769.3 L200.6,769.3 L201.0,769.3 L201.5,769.3 L201.9,769.3 L202.4,769.3 L202.8,769.3 L203.2,769.3 L203.7,769.3 L204.1,769.3 L204.5,769.3 L205.0,769.3 L205.4,769.3 L205.9,769.3 L206.3,769.3 L206.7,769.3 L207.2,769.3 L207.6,769.3 L208.0,769.3 L208.5,769.3 L208.9,769.3 L209.3,769.3 L209.8,769.3 L210.2,769.3 L210.7,769.3 L211.1,769.3 L211.5,769.3 L212.0,769.3 L212.4,769.3 L212.8,769.3 L213.3,769.3 L213.7,769.3 L214.2,769.3 L214.6,769.3 L215.0,769.3 L215.5,769.3 L215.9,769.3 L216.3,769.3 L216.8,769.3 L217.2,769.3 L217.7,769.3 L218.1,769.3 L218.5,769.3 L219.0,769.3 L219.4,769.3 L219.8,769.3 L220.3,769.3 L220.7,769.3 L221.1,769.3 L221.6,769.3 L222.0,769.3 L222.5,769.3 L222.9,769.3 L223.3,769.3 L223.8,769.3 L224.2,769.3 L224.6,769.3" fill="none" stroke="#d4141e" stroke-width="2.4" stroke-dasharray="13 11.5" stroke-dashoffset="23.82" stroke-linejoin="round"/>
<path d="M225.1,769.3 L225.5,769.3 L226.0,769.3 L226.4,769.3 L226.8,769.3 L227.3,769.3 L227.7,769.3 L228.1,769.3 L228.6,769.3 L229.0,769.3 L229.5,769.3 L229.9,769.3 L230.3,769.3 L230.8,769.3 L231.2,769.3 L231.6,769.3 L232.1,769.3 L232.5,769.3 L232.9,769.3 L233.4,769.3 L233.8,769.3 L234.3,769.3 L234.7,769.3 L235.1,769.3 L235.6,769.3 L236.0,769.3 L236.4,769.3 L236.9,769.3 L237.3,769.3 L237.8,769.3 L238.2,769.3 L238.6,769.3 L239.1,769.3 L239.5,769.3 L239.9,769.3 L240.4,769.3 L240.8,769.3 L241.3,769.3 L241.7,769.3 L242.1,769.3 L242.6,769.3 L243.0,769.3 L243.4,769.3 L243.9,769.3 L244.3,769.3 L244.7,769.3 L245.2,769.3 L245.6,769.3 L246.1,769.3 L246.5,769.3 L246.9,769.3 L247.4,769.3 L247.8,769.3 L248.2,769.3 L248.7,769.3 L249.1,769.3 L249.6,769.3 L250.0,769.3 L250.4,769.3 L250.9,769.3 L251.3,769.3 L251.7,769.3 L252.2,769.3 L252.6,769.3 L253.1,769.3 L253.5,769.3 L253.9,769.3 L254.4,769.3 L254.8,769.3 L255.2,769.3 L255.7,769.3 L256.1,769.3 L256.5,769.3 L257.0,769.3 L257.4,769.3 L257.9,769.3 L258.3,769.3 L258.7,769.3 L259.2,769.3 L259.6,769.3 L260.0,769.3 L260.5,769.3 L260.9,769.3 L261.4,769.2 L261.8,769.1 L262.2,769.0 L262.7,768.8 L263.1,768.7 L263.5,768.6 L264.0,768.5 L264.4,768.3 L264.9,768.2 L265.3,768.0 L265.7,767.9 L266.2,767.7 L266.6,767.6 L267.0,767.4 L267.5,767.3 L267.9,767.1 L268.3,767.0 L268.8,766.8 L269.2,766.6 L269.7,766.5 L270.1,766.3 L270.5,766.1 L271.0,765.9 L271.4,765.7 L271.8,765.6 L272.3,765.4 L272.7,765.2 L273.2,765.0 L273.6,764.8 L274.0,764.6 L274.5,764.4 L274.9,764.2 L275.3,764.0 L275.8,763.7 L276.2,763.5 L276.7,763.3 L277.1,763.1 L277.5,762.8 L278.0,762.6 L278.4,762.4 L278.8,762.1 L279.3,761.9 L279.7,761.7 L280.1,761.4 L280.6,761.2 L281.0,760.9 L281.5,760.6 L281.9,760.4 L282.3,760.1 L282.8,759.9 L283.2,759.6 L283.6,759.3 L284.1,759.0 L284.5,758.8 L285.0,758.5 L285.4,758.2 L285.8,757.9 L286.3,757.6 L286.7,757.3 L287.1,757.0 L287.6,756.7 L288.0,756.4 L288.5,756.1 L288.9,755.8 L289.3,755.5 L289.8,755.2 L290.2,754.9 L290.6,754.6 L291.1,754.2 L291.5,753.9 L291.9,753.6 L292.4,753.3 L292.8,752.9 L293.3,752.6 L293.7,752.3 L294.1,751.9 L294.6,751.6 L295.0,751.3 L295.4,750.9 L295.9,750.6 L296.3,750.2 L296.8,749.9 L297.2,749.5 L297.6,749.2 L298.1,748.8 L298.5,748.5 L298.9,748.1 L299.4,747.8 L299.8,747.4 L300.3,747.1 L300.7,746.7 L301.1,746.4 L301.6,746.0 L302.0,745.7 L302.4,745.3 L302.9,744.9 L303.3,744.6 L303.7,744.2 L304.2,743.9 L304.6,743.5 L305.1,743.2 L305.5,742.8 L305.9,742.4 L306.4,742.1 L306.8,741.7 L307.2,741.4 L307.7,741.0 L308.1,740.7 L308.6,740.3 L309.0,740.0 L309.4,739.6 L309.9,739.3 L310.3,738.9 L310.7,738.6 L311.2,738.2 L311.6,737.9 L312.1,737.6 L312.5,737.2 L312.9,736.9 L313.4,736.6 L313.8,736.2 L314.2,735.9 L314.7,735.6 L315.1,735.3 L315.5,735.0 L316.0,734.7 L316.4,734.4 L316.9,734.0 L317.3,733.7 L317.7,733.5 L318.2,733.2 L318.6,732.9 L319.0,732.6 L319.5,732.3 L319.9,732.0 L320.4,731.8 L320.8,731.5 L321.2,731.2 L321.7,731.0 L322.1,730.7 L322.5,730.5 L323.0,730.2 L323.4,730.0 L323.9,729.8 L324.3,729.5 L324.7,729.3 L325.2,729.1 L325.6,728.9 L326.0,728.7 L326.5,728.5 L326.9,728.3 L327.3,728.1 L327.8,727.9 L328.2,727.7 L328.7,727.6 L329.1,727.4 L329.5,727.3 L330.0,727.1 L330.4,727.0 L330.8,726.8 L331.3,726.7 L331.7,726.6 L332.2,726.5 L332.6,726.4 L333.0,726.3 L333.5,726.2 L333.9,726.1 L334.3,726.0 L334.8,725.9 L335.2,725.9 L335.7,725.8 L336.1,725.8 L336.5,725.7 L337.0,725.7 L337.4,725.6 L337.8,725.6 L338.3,725.6 L338.7,725.6 L339.1,725.6 L339.6,725.6 L340.0,725.6 L340.5,725.6 L340.9,725.6 L341.3,725.7 L341.8,725.7 L342.2,725.7 L342.6,725.8 L343.1,725.8 L343.5,725.9 L344.0,725.9 L344.4,726.0 L344.8,726.0 L345.3,726.1 L345.7,726.2 L346.1,726.2 L346.6,726.3 L347.0,726.4 L347.5,726.5 L347.9,726.6 L348.3,726.7 L348.8,726.8 L349.2,726.9 L349.6,727.0 L350.1,727.1 L350.5,727.3 L350.9,727.4 L351.4,727.5 L351.8,727.6 L352.3,727.8 L352.7,727.9 L353.1,728.1 L353.6,728.2 L354.0,728.4 L354.4,728.5 L354.9,728.7 L355.3,728.9 L355.8,729.0 L356.2,729.2 L356.6,729.4 L357.1,729.6 L357.5,729.7 L357.9,729.9 L358.4,730.1 L358.8,730.3 L359.3,730.5 L359.7,730.7 L360.1,730.9 L360.6,731.1 L361.0,731.4 L361.4,731.6 L361.9,731.8 L362.3,732.0 L362.7,732.2 L363.2,732.5 L363.6,732.7 L364.1,732.9 L364.5,733.1 L364.9,733.4 L365.4,733.6 L365.8,733.9 L366.2,734.1 L366.7,734.4 L367.1,734.6 L367.6,734.8 L368.0,735.1 L368.4,735.4 L368.9,735.6 L369.3,735.9 L369.7,736.1 L370.2,736.4 L370.6,736.6 L371.1,736.9 L371.5,737.2 L371.9,737.4 L372.4,737.7 L372.8,738.0 L373.2,738.3 L373.7,738.5 L374.1,738.8 L374.5,739.1 L375.0,739.3 L375.4,739.6 L375.9,739.9 L376.3,740.2 L376.7,740.5 L377.2,740.7 L377.6,741.0 L378.0,741.3 L378.5,741.6 L378.9,741.8 L379.4,742.1 L379.8,742.4 L380.2,742.7 L380.7,743.0 L381.1,743.2 L381.5,743.5 L382.0,743.8 L382.4,744.1 L382.9,744.4 L383.3,744.6 L383.7,744.9 L384.2,745.2 L384.6,745.5 L385.0,745.7 L385.5,746.0 L385.9,746.3 L386.3,746.6 L386.8,746.8 L387.2,747.1 L387.7,747.4 L388.1,747.7 L388.5,747.9 L389.0,748.2 L389.4,748.5 L389.8,748.7 L390.3,749.0 L390.7,749.3 L391.2,749.5 L391.6,749.8 L392.0,750.1 L392.5,750.3 L392.9,750.6 L393.3,750.8 L393.8,751.1 L394.2,751.3 L394.7,751.6 L395.1,751.8 L395.5,752.1 L396.0,752.3 L396.4,752.6 L396.8,752.8 L397.3,753.1 L397.7,753.3 L398.1,753.5 L398.6,753.8 L399.0,754.0 L399.5,754.3 L399.9,754.5 L400.3,754.7 L400.8,754.9 L401.2,755.2 L401.6,755.4 L402.1,755.6 L402.5,755.8 L403.0,756.0 L403.4,756.3 L403.8,756.5 L404.3,756.7 L404.7,756.9 L405.1,757.1 L405.6,757.3 L406.0,757.5 L406.5,757.7 L406.9,757.9 L407.3,758.1 L407.8,758.3 L408.2,758.5 L408.6,758.7 L409.1,758.9 L409.5,759.1 L409.9,759.2 L410.4,759.4 L410.8,759.6 L411.3,759.8 L411.7,759.9 L412.1,760.1 L412.6,760.3 L413.0,760.5 L413.4,760.6 L413.9,760.8 L414.3,760.9 L414.8,761.1 L415.2,761.3 L415.6,761.4 L416.1,761.6 L416.5,761.7 L416.9,761.9 L417.4,762.0 L417.8,762.2 L418.3,762.3 L418.7,762.4 L419.1,762.6 L419.6,762.7 L420.0,762.9 L420.4,763.0 L420.9,763.1 L421.3,763.2 L421.7,763.4 L422.2,763.5 L422.6,763.6 L423.1,763.7 L423.5,763.9 L423.9,764.0 L424.4,764.1 L424.8,764.2 L425.2,764.3 L425.7,764.4 L426.1,764.5 L426.6,764.6 L427.0,764.7 L427.4,764.8 L427.9,764.9 L428.3,765.0 L428.7,765.1 L429.2,765.2 L429.6,765.3 L430.1,765.4 L430.5,765.5 L430.9,765.6 L431.4,765.7 L431.8,765.8 L432.2,765.8 L432.7,765.9 L433.1,766.0 L433.5,766.1 L434.0,766.2 L434.4,766.2 L434.9,766.3 L435.3,766.4 L435.7,766.4 L436.2,766.5 L436.6,766.6 L437.0,766.7 L437.5,766.7 L437.9,766.8 L438.4,766.8 L438.8,766.9 L439.2,767.0 L439.7,767.0 L440.1,767.1 L440.5,767.1 L441.0,767.2 L441.4,767.3 L441.9,767.3 L442.3,767.4 L442.7,767.4 L443.2,767.5 L443.6,767.5 L444.0,767.6 L444.5,767.6 L444.9,767.6 L445.3,767.7 L445.8,767.7 L446.2,767.8 L446.7,767.8 L447.1,767.9 L447.5,767.9 L448.0,767.9 L448.4,768.0 L448.8,768.0 L449.3,768.0 L449.7,768.1 L450.2,768.1 L450.6,768.1 L451.0,768.2 L451.5,768.2 L451.9,768.2 L452.3,768.3 L452.8,768.3 L453.2,768.3 L453.7,768.4 L454.1,768.4 L454.5,768.4 L455.0,768.4 L455.4,768.5 L455.8,768.5 L456.3,768.5 L456.7,768.5 L457.1,768.6 L457.6,768.6 L458.0,768.6 L458.5,768.6 L458.9,768.6 L459.3,768.7 L459.8,768.7 L460.2,768.7 L460.6,768.7 L461.1,768.7 L461.5,768.8 L462.0,768.8 L462.4,768.8 L462.8,768.8 L463.3,768.8 L463.7,768.8 L464.1,768.8 L464.6,768.9 L465.0,768.9 L465.5,768.9 L465.9,768.9 L466.3,768.9 L466.8,768.9 L467.2,768.9 L467.6,768.9 L468.1,769.0 L468.5,769.0 L468.9,769.0 L469.4,769.0 L469.8,769.0 L470.3,769.0 L470.7,769.0 L471.1,769.0 L471.6,769.0 L472.0,769.0 L472.4,769.1 L472.9,769.1 L473.3,769.1 L473.8,769.1 L474.2,769.1 L474.6,769.1 L475.1,769.1 L475.5,769.1 L475.9,769.1 L476.4,769.1 L476.8,769.1 L477.3,769.1 L477.7,769.1 L478.1,769.1 L478.6,769.2 L479.0,769.2 L479.4,769.2 L479.9,769.2 L480.3,769.2 L480.7,769.2 L481.2,769.2 L481.6,769.2 L482.1,769.2 L482.5,769.2 L482.9,769.2 L483.4,769.2 L483.8,769.2 L484.2,769.2 L484.7,769.2 L485.1,769.2 L485.6,769.2 L486.0,769.2 L486.4,769.2 L486.9,769.2 L487.3,769.2 L487.7,769.2 L488.2,769.2 L488.6,769.2 L489.1,769.2 L489.5,769.2 L489.9,769.2 L490.4,769.2 L490.8,769.2 L491.2,769.2 L491.7,769.3 L492.1,769.3 L492.5,769.3 L493.0,769.3 L493.4,769.3 L493.9,769.3 L494.3,769.3 L494.7,769.3 L495.2,769.3 L495.6,769.3 L496.0,769.3 L496.5,769.3 L496.9,769.3 L497.4,769.3 L497.8,769.3 L498.2,769.3 L498.7,769.3 L499.1,769.3 L499.5,769.3 L500.0,769.3 L500.4,769.3 L500.9,769.3 L501.3,769.3 L501.7,769.3 L502.2,769.3 L502.6,769.3" fill="none" stroke="#d4141e" stroke-width="2.4" stroke-dasharray="13 11.5" stroke-dashoffset="2.26" stroke-linejoin="round"/>
<path d="M66.0,769.3 L66.4,769.3 L66.9,769.3 L67.3,769.3 L67.7,769.3 L68.2,769.3 L68.6,769.3 L69.1,769.3 L69.5,769.3 L69.9,769.3 L70.4,769.3 L70.8,769.3 L71.2,769.3 L71.7,769.3 L72.1,769.3 L72.6,769.3 L73.0,769.3 L73.4,769.3 L73.9,769.3 L74.3,769.3 L74.7,769.3 L75.2,769.3 L75.6,769.3 L76.1,769.3 L76.5,769.3 L76.9,769.3 L77.4,769.3 L77.8,769.3 L78.2,769.3 L78.7,769.3 L79.1,769.3 L79.5,769.3 L80.0,769.3 L80.4,769.3 L80.9,769.3 L81.3,769.3 L81.7,769.3 L82.2,769.3 L82.6,769.3 L83.0,769.3 L83.5,769.3 L83.9,769.3 L84.4,769.3 L84.8,769.3 L85.2,769.3 L85.7,769.3 L86.1,769.3 L86.5,769.3 L87.0,769.3 L87.4,769.3 L87.9,769.3 L88.3,769.3 L88.7,769.3 L89.2,769.3 L89.6,769.3 L90.0,769.3 L90.5,769.3 L90.9,769.3 L91.3,769.3 L91.8,769.3 L92.2,769.3 L92.7,769.3 L93.1,769.3 L93.5,769.3 L94.0,769.3 L94.4,769.3 L94.8,769.3 L95.3,769.3 L95.7,769.3 L96.2,769.3 L96.6,769.3 L97.0,769.3 L97.5,769.3 L97.9,769.3 L98.3,769.3 L98.8,769.3 L99.2,769.3 L99.7,769.3 L100.1,769.3 L100.5,769.3 L101.0,769.3 L101.4,769.3 L101.8,769.3 L102.3,769.3 L102.7,769.3 L103.1,769.3 L103.6,769.3 L104.0,769.3 L104.5,769.3 L104.9,769.3 L105.3,769.3 L105.8,769.3 L106.2,769.3 L106.6,769.3 L107.1,769.3 L107.5,769.3 L108.0,769.3 L108.4,769.3 L108.8,769.3 L109.3,769.3 L109.7,769.3 L110.1,769.3 L110.6,769.3 L111.0,769.3 L111.5,769.3 L111.9,769.3 L112.3,769.3 L112.8,769.3 L113.2,769.3 L113.6,769.3 L114.1,769.3 L114.5,769.3 L114.9,769.3 L115.4,769.3 L115.8,769.3 L116.3,769.3 L116.7,769.3 L117.1,769.3 L117.6,769.3 L118.0,769.3 L118.4,769.3 L118.9,769.3 L119.3,769.3 L119.8,769.3 L120.2,769.3 L120.6,769.3 L121.1,769.0 L121.5,767.4 L121.9,765.5 L122.4,763.3 L122.8,760.7 L123.3,757.7 L123.7,754.2 L124.1,750.2 L124.6,745.6 L125.0,740.5 L125.4,734.7 L125.9,728.2 L126.3,721.0 L126.7,713.2 L127.2,704.6 L127.6,695.4 L128.1,685.4 L128.5,674.8 L128.9,663.6 L129.4,651.8 L129.8,639.5 L130.2,626.9 L130.7,613.9 L131.1,600.7 L131.6,587.4 L132.0,574.2 L132.4,561.1 L132.9,548.2 L133.3,535.8 L133.7,523.9 L134.2,512.6 L134.6,502.0 L135.1,492.3 L135.5,483.5 L135.9,475.7 L136.4,468.8 L136.8,463.0 L137.2,458.3 L137.7,454.6 L138.1,452.0 L138.5,450.3 L139.0,449.4 L139.4,449.2 L139.9,449.8 L140.3,451.4 L140.7,453.9 L141.2,457.2 L141.6,461.4 L142.0,466.2 L142.5,471.8 L142.9,477.9 L143.4,484.7 L143.8,492.0 L144.2,499.7 L144.7,507.9 L145.1,516.4 L145.5,525.2 L146.0,534.3 L146.4,543.5 L146.9,552.9 L147.3,562.4 L147.7,571.9 L148.2,581.4 L148.6,590.9 L149.0,600.2 L149.5,609.5 L149.9,618.5 L150.3,627.4 L150.8,636.0 L151.2,644.4 L151.7,652.5 L152.1,660.4 L152.5,667.9 L153.0,675.1 L153.4,682.0 L153.8,688.5 L154.3,694.8 L154.7,700.7 L155.2,706.2 L155.6,711.5 L156.0,716.4 L156.5,721.0 L156.9,725.3 L157.3,729.3 L157.8,733.0 L158.2,736.4 L158.7,739.6 L159.1,742.5 L159.5,745.2 L160.0,747.7 L160.4,749.9 L160.8,752.0 L161.3,753.8 L161.7,755.5 L162.1,757.1 L162.6,758.4 L163.0,759.7 L163.5,760.8 L163.9,761.8 L164.3,762.7 L164.8,763.5 L165.2,764.2 L165.6,764.9 L166.1,765.4 L166.5,765.9 L167.0,766.4 L167.4,766.8 L167.8,767.1 L168.3,767.4 L168.7,767.7 L169.1,767.9 L169.6,768.1 L170.0,768.3 L170.5,768.4 L170.9,768.5 L171.3,768.7 L171.8,768.8 L172.2,768.8 L172.6,768.9 L173.1,769.0 L173.5,769.0 L173.9,769.1 L174.4,769.1 L174.8,769.1 L175.3,769.2 L175.7,769.2 L176.1,769.2 L176.6,769.2 L177.0,769.2 L177.4,769.2 L177.9,769.3 L178.3,769.3 L178.8,769.3 L179.2,769.3 L179.6,769.3 L180.1,769.3 L180.5,769.3 L180.9,769.3 L181.4,769.3 L181.8,769.3 L182.3,769.3 L182.7,769.3 L183.1,769.3 L183.6,769.3 L184.0,769.3 L184.4,769.3 L184.9,769.3 L185.3,769.3 L185.7,769.3 L186.2,769.3 L186.6,769.3 L187.1,769.3 L187.5,769.3 L187.9,769.3 L188.4,769.3 L188.8,769.3 L189.2,769.3 L189.7,769.3 L190.1,769.3 L190.6,769.3 L191.0,769.3 L191.4,769.3 L191.9,769.3 L192.3,769.3 L192.7,769.3 L193.2,769.3 L193.6,769.3 L194.1,769.3 L194.5,769.3 L194.9,769.3 L195.4,769.3 L195.8,769.3 L196.2,769.3 L196.7,769.3 L197.1,769.3 L197.5,769.3 L198.0,769.3 L198.4,769.3 L198.9,769.3 L199.3,769.3 L199.7,769.3 L200.2,769.3 L200.6,769.3 L201.0,769.3 L201.5,769.3 L201.9,769.3 L202.4,769.3 L202.8,769.3 L203.2,769.3 L203.7,769.3 L204.1,769.3 L204.5,769.3 L205.0,769.3 L205.4,769.3 L205.9,769.3 L206.3,769.3 L206.7,769.3 L207.2,769.3 L207.6,769.3 L208.0,769.3 L208.5,769.3 L208.9,769.3 L209.3,769.3 L209.8,769.3 L210.2,769.3 L210.7,769.3 L211.1,769.3 L211.5,769.3 L212.0,769.3 L212.4,769.3 L212.8,769.3 L213.3,769.3 L213.7,769.3 L214.2,769.3 L214.6,769.3 L215.0,769.3 L215.5,769.3 L215.9,769.3 L216.3,769.3 L216.8,769.3 L217.2,769.3 L217.7,769.3 L218.1,769.3 L218.5,769.3 L219.0,769.3 L219.4,769.3 L219.8,769.3 L220.3,769.3 L220.7,769.3 L221.1,769.3 L221.6,769.3 L222.0,769.3 L222.5,769.3 L222.9,769.3 L223.3,769.3 L223.8,769.3 L224.2,769.3 L224.6,769.3" fill="none" stroke="#1a1ab8" stroke-width="2.8" stroke-dasharray="9 8.5 1.2 8.5 1.2 8.5" stroke-dashoffset="31.33" stroke-linejoin="round" stroke-linecap="round"/>
<path d="M225.1,769.3 L225.5,769.3 L226.0,769.3 L226.4,769.3 L226.8,769.3 L227.3,769.3 L227.7,769.3 L228.1,769.3 L228.6,769.3 L229.0,769.3 L229.5,769.3 L229.9,769.3 L230.3,769.3 L230.8,769.3 L231.2,769.3 L231.6,769.3 L232.1,769.3 L232.5,769.3 L232.9,769.3 L233.4,769.3 L233.8,769.3 L234.3,769.3 L234.7,769.3 L235.1,769.3 L235.6,769.3 L236.0,769.3 L236.4,769.3 L236.9,769.3 L237.3,769.3 L237.8,769.3 L238.2,769.3 L238.6,769.3 L239.1,769.3 L239.5,769.3 L239.9,769.3 L240.4,769.3 L240.8,769.3 L241.3,769.3 L241.7,769.3 L242.1,769.3 L242.6,769.3 L243.0,769.3 L243.4,769.3 L243.9,769.3 L244.3,769.3 L244.7,769.3 L245.2,769.3 L245.6,769.3 L246.1,769.3 L246.5,769.3 L246.9,769.3 L247.4,769.3 L247.8,769.3 L248.2,769.3 L248.7,769.3 L249.1,769.3 L249.6,769.3 L250.0,769.3 L250.4,769.3 L250.9,769.3 L251.3,769.3 L251.7,769.3 L252.2,769.3 L252.6,769.3 L253.1,769.3 L253.5,769.3 L253.9,769.3 L254.4,769.3 L254.8,769.2 L255.2,769.1 L255.7,768.9 L256.1,768.8 L256.5,768.6 L257.0,768.4 L257.4,768.2 L257.9,768.1 L258.3,767.9 L258.7,767.7 L259.2,767.5 L259.6,767.3 L260.0,767.1 L260.5,766.9 L260.9,766.7 L261.4,766.5 L261.8,766.2 L262.2,766.0 L262.7,765.8 L263.1,765.5 L263.5,765.3 L264.0,765.1 L264.4,764.8 L264.9,764.6 L265.3,764.3 L265.7,764.0 L266.2,763.8 L266.6,763.5 L267.0,763.2 L267.5,762.9 L267.9,762.6 L268.3,762.3 L268.8,762.0 L269.2,761.7 L269.7,761.4 L270.1,761.1 L270.5,760.7 L271.0,760.4 L271.4,760.1 L271.8,759.7 L272.3,759.4 L272.7,759.0 L273.2,758.7 L273.6,758.3 L274.0,757.9 L274.5,757.5 L274.9,757.1 L275.3,756.7 L275.8,756.4 L276.2,755.9 L276.7,755.5 L277.1,755.1 L277.5,754.7 L278.0,754.3 L278.4,753.8 L278.8,753.4 L279.3,752.9 L279.7,752.5 L280.1,752.0 L280.6,751.6 L281.0,751.1 L281.5,750.6 L281.9,750.1 L282.3,749.6 L282.8,749.1 L283.2,748.6 L283.6,748.1 L284.1,747.6 L284.5,747.1 L285.0,746.5 L285.4,746.0 L285.8,745.5 L286.3,744.9 L286.7,744.4 L287.1,743.8 L287.6,743.3 L288.0,742.7 L288.5,742.1 L288.9,741.5 L289.3,741.0 L289.8,740.4 L290.2,739.8 L290.6,739.2 L291.1,738.6 L291.5,738.0 L291.9,737.4 L292.4,736.7 L292.8,736.1 L293.3,735.5 L293.7,734.9 L294.1,734.2 L294.6,733.6 L295.0,732.9 L295.4,732.3 L295.9,731.6 L296.3,731.0 L296.8,730.3 L297.2,729.7 L297.6,729.0 L298.1,728.3 L298.5,727.7 L298.9,727.0 L299.4,726.3 L299.8,725.7 L300.3,725.0 L300.7,724.3 L301.1,723.6 L301.6,722.9 L302.0,722.3 L302.4,721.6 L302.9,720.9 L303.3,720.2 L303.7,719.5 L304.2,718.8 L304.6,718.2 L305.1,717.5 L305.5,716.8 L305.9,716.1 L306.4,715.4 L306.8,714.7 L307.2,714.1 L307.7,713.4 L308.1,712.7 L308.6,712.0 L309.0,711.4 L309.4,710.7 L309.9,710.0 L310.3,709.3 L310.7,708.7 L311.2,708.0 L311.6,707.4 L312.1,706.7 L312.5,706.1 L312.9,705.4 L313.4,704.8 L313.8,704.2 L314.2,703.5 L314.7,702.9 L315.1,702.3 L315.5,701.7 L316.0,701.1 L316.4,700.5 L316.9,699.9 L317.3,699.3 L317.7,698.7 L318.2,698.1 L318.6,697.6 L319.0,697.0 L319.5,696.4 L319.9,695.9 L320.4,695.4 L320.8,694.8 L321.2,694.3 L321.7,693.8 L322.1,693.3 L322.5,692.8 L323.0,692.3 L323.4,691.9 L323.9,691.4 L324.3,691.0 L324.7,690.5 L325.2,690.1 L325.6,689.7 L326.0,689.3 L326.5,688.9 L326.9,688.5 L327.3,688.1 L327.8,687.7 L328.2,687.4 L328.7,687.0 L329.1,686.7 L329.5,686.4 L330.0,686.1 L330.4,685.8 L330.8,685.5 L331.3,685.2 L331.7,685.0 L332.2,684.8 L332.6,684.5 L333.0,684.3 L333.5,684.1 L333.9,683.9 L334.3,683.7 L334.8,683.6 L335.2,683.4 L335.7,683.3 L336.1,683.2 L336.5,683.1 L337.0,683.0 L337.4,682.9 L337.8,682.8 L338.3,682.8 L338.7,682.7 L339.1,682.7 L339.6,682.7 L340.0,682.7 L340.5,682.7 L340.9,682.7 L341.3,682.8 L341.8,682.8 L342.2,682.9 L342.6,682.9 L343.1,683.0 L343.5,683.1 L344.0,683.2 L344.4,683.3 L344.8,683.4 L345.3,683.5 L345.7,683.6 L346.1,683.8 L346.6,683.9 L347.0,684.1 L347.5,684.2 L347.9,684.4 L348.3,684.6 L348.8,684.8 L349.2,685.0 L349.6,685.2 L350.1,685.4 L350.5,685.6 L350.9,685.9 L351.4,686.1 L351.8,686.4 L352.3,686.6 L352.7,686.9 L353.1,687.2 L353.6,687.5 L354.0,687.8 L354.4,688.1 L354.9,688.4 L355.3,688.7 L355.8,689.0 L356.2,689.4 L356.6,689.7 L357.1,690.1 L357.5,690.4 L357.9,690.8 L358.4,691.2 L358.8,691.5 L359.3,691.9 L359.7,692.3 L360.1,692.7 L360.6,693.1 L361.0,693.5 L361.4,694.0 L361.9,694.4 L362.3,694.8 L362.7,695.2 L363.2,695.7 L363.6,696.1 L364.1,696.6 L364.5,697.0 L364.9,697.5 L365.4,698.0 L365.8,698.5 L366.2,698.9 L366.7,699.4 L367.1,699.9 L367.6,700.4 L368.0,700.9 L368.4,701.4 L368.9,701.9 L369.3,702.4 L369.7,702.9 L370.2,703.4 L370.6,704.0 L371.1,704.5 L371.5,705.0 L371.9,705.5 L372.4,706.1 L372.8,706.6 L373.2,707.1 L373.7,707.7 L374.1,708.2 L374.5,708.7 L375.0,709.3 L375.4,709.8 L375.9,710.4 L376.3,710.9 L376.7,711.5 L377.2,712.0 L377.6,712.6 L378.0,713.1 L378.5,713.7 L378.9,714.3 L379.4,714.8 L379.8,715.4 L380.2,715.9 L380.7,716.5 L381.1,717.0 L381.5,717.6 L382.0,718.2 L382.4,718.7 L382.9,719.3 L383.3,719.8 L383.7,720.4 L384.2,720.9 L384.6,721.5 L385.0,722.0 L385.5,722.6 L385.9,723.1 L386.3,723.7 L386.8,724.2 L387.2,724.8 L387.7,725.3 L388.1,725.9 L388.5,726.4 L389.0,726.9 L389.4,727.5 L389.8,728.0 L390.3,728.5 L390.7,729.1 L391.2,729.6 L391.6,730.1 L392.0,730.6 L392.5,731.2 L392.9,731.7 L393.3,732.2 L393.8,732.7 L394.2,733.2 L394.7,733.7 L395.1,734.2 L395.5,734.7 L396.0,735.2 L396.4,735.7 L396.8,736.2 L397.3,736.7 L397.7,737.2 L398.1,737.6 L398.6,738.1 L399.0,738.6 L399.5,739.1 L399.9,739.5 L400.3,740.0 L400.8,740.4 L401.2,740.9 L401.6,741.3 L402.1,741.8 L402.5,742.2 L403.0,742.7 L403.4,743.1 L403.8,743.5 L404.3,743.9 L404.7,744.4 L405.1,744.8 L405.6,745.2 L406.0,745.6 L406.5,746.0 L406.9,746.4 L407.3,746.8 L407.8,747.2 L408.2,747.6 L408.6,747.9 L409.1,748.3 L409.5,748.7 L409.9,749.1 L410.4,749.4 L410.8,749.8 L411.3,750.1 L411.7,750.5 L412.1,750.8 L412.6,751.2 L413.0,751.5 L413.4,751.8 L413.9,752.2 L414.3,752.5 L414.8,752.8 L415.2,753.1 L415.6,753.5 L416.1,753.8 L416.5,754.1 L416.9,754.4 L417.4,754.7 L417.8,754.9 L418.3,755.2 L418.7,755.5 L419.1,755.8 L419.6,756.1 L420.0,756.3 L420.4,756.6 L420.9,756.9 L421.3,757.1 L421.7,757.4 L422.2,757.6 L422.6,757.9 L423.1,758.1 L423.5,758.4 L423.9,758.6 L424.4,758.8 L424.8,759.0 L425.2,759.3 L425.7,759.5 L426.1,759.7 L426.6,759.9 L427.0,760.1 L427.4,760.3 L427.9,760.5 L428.3,760.7 L428.7,760.9 L429.2,761.1 L429.6,761.3 L430.1,761.5 L430.5,761.7 L430.9,761.8 L431.4,762.0 L431.8,762.2 L432.2,762.3 L432.7,762.5 L433.1,762.7 L433.5,762.8 L434.0,763.0 L434.4,763.1 L434.9,763.3 L435.3,763.4 L435.7,763.6 L436.2,763.7 L436.6,763.9 L437.0,764.0 L437.5,764.1 L437.9,764.2 L438.4,764.4 L438.8,764.5 L439.2,764.6 L439.7,764.7 L440.1,764.9 L440.5,765.0 L441.0,765.1 L441.4,765.2 L441.9,765.3 L442.3,765.4 L442.7,765.5 L443.2,765.6 L443.6,765.7 L444.0,765.8 L444.5,765.9 L444.9,766.0 L445.3,766.1 L445.8,766.2 L446.2,766.2 L446.7,766.3 L447.1,766.4 L447.5,766.5 L448.0,766.6 L448.4,766.6 L448.8,766.7 L449.3,766.8 L449.7,766.9 L450.2,766.9 L450.6,767.0 L451.0,767.1 L451.5,767.1 L451.9,767.2 L452.3,767.2 L452.8,767.3 L453.2,767.4 L453.7,767.4 L454.1,767.5 L454.5,767.5 L455.0,767.6 L455.4,767.6 L455.8,767.7 L456.3,767.7 L456.7,767.8 L457.1,767.8 L457.6,767.9 L458.0,767.9 L458.5,767.9 L458.9,768.0 L459.3,768.0 L459.8,768.1 L460.2,768.1 L460.6,768.1 L461.1,768.2 L461.5,768.2 L462.0,768.2 L462.4,768.3 L462.8,768.3 L463.3,768.3 L463.7,768.4 L464.1,768.4 L464.6,768.4 L465.0,768.5 L465.5,768.5 L465.9,768.5 L466.3,768.5 L466.8,768.6 L467.2,768.6 L467.6,768.6 L468.1,768.6 L468.5,768.6 L468.9,768.7 L469.4,768.7 L469.8,768.7 L470.3,768.7 L470.7,768.7 L471.1,768.8 L471.6,768.8 L472.0,768.8 L472.4,768.8 L472.9,768.8 L473.3,768.8 L473.8,768.9 L474.2,768.9 L474.6,768.9 L475.1,768.9 L475.5,768.9 L475.9,768.9 L476.4,768.9 L476.8,769.0 L477.3,769.0 L477.7,769.0 L478.1,769.0 L478.6,769.0 L479.0,769.0 L479.4,769.0 L479.9,769.0 L480.3,769.0 L480.7,769.1 L481.2,769.1 L481.6,769.1 L482.1,769.1 L482.5,769.1 L482.9,769.1 L483.4,769.1 L483.8,769.1 L484.2,769.1 L484.7,769.1 L485.1,769.1 L485.6,769.1 L486.0,769.1 L486.4,769.1 L486.9,769.2 L487.3,769.2 L487.7,769.2 L488.2,769.2 L488.6,769.2 L489.1,769.2 L489.5,769.2 L489.9,769.2 L490.4,769.2 L490.8,769.2 L491.2,769.2 L491.7,769.2 L492.1,769.2 L492.5,769.2 L493.0,769.2 L493.4,769.2 L493.9,769.2 L494.3,769.2 L494.7,769.2 L495.2,769.2 L495.6,769.2 L496.0,769.2 L496.5,769.2 L496.9,769.2 L497.4,769.2 L497.8,769.2 L498.2,769.2 L498.7,769.2 L499.1,769.3 L499.5,769.3 L500.0,769.3 L500.4,769.3 L500.9,769.3 L501.3,769.3 L501.7,769.3 L502.2,769.3 L502.6,769.3" fill="none" stroke="#1a1ab8" stroke-width="2.8" stroke-dasharray="9 8.5 1.2 8.5 1.2 8.5" stroke-dashoffset="2.62" stroke-linejoin="round" stroke-linecap="round"/>
<path d="M64.65,769.3 H503.95" stroke="#000" stroke-width="2.7" fill="none"/>
<path d="M66.00,769.3 H501.25" stroke="#0c0c58" stroke-width="2.7" fill="none"/>
<text x="66.00" y="787.30" text-anchor="middle" font-size="12.7">0.000</text>
<text x="153.32" y="787.30" text-anchor="middle" font-size="12.7">0.002</text>
<text x="240.64" y="787.30" text-anchor="middle" font-size="12.7">0.004</text>
<text x="327.96" y="787.30" text-anchor="middle" font-size="12.7">0.006</text>
<text x="415.28" y="787.30" text-anchor="middle" font-size="12.7">0.008</text>
<text x="502.60" y="787.30" text-anchor="middle" font-size="12.7">0.010</text>
<text x="57.80" y="772.45" text-anchor="end" font-size="12.7">0</text>
<text x="57.80" y="685.97" text-anchor="end" font-size="12.7">500</text>
<text x="57.80" y="599.50" text-anchor="end" font-size="12.7">1000</text>
<text x="57.80" y="513.02" text-anchor="end" font-size="12.7">1500</text>
<text x="57.80" y="426.55" text-anchor="end" font-size="12.7">2000</text>
<text x="145.3" y="474.5" font-size="14.4">InN/GaN QD</text>
<text x="361.6" y="685" font-size="14.4">InAs/GaAs QD</text>
<text x="283.8" y="808.1" text-anchor="middle" font-size="14.84">Valanceband intersubband transition energy(in eV)</text>
<text transform="translate(16.4,607.9) rotate(-90) scale(1,1.02)" text-anchor="middle" font-size="14.9">Optical absorption coefficient(nm<tspan dy="-8.8" font-size="8.8">-1</tspan><tspan dy="8.8">)</tspan></text>
<path d="M329.2,444.0 H369.6" stroke="#000" stroke-width="2.7" fill="none"/>
<text x="373.4" y="449.6" font-size="16.15"><tspan dy="-0.73" font-weight="normal" font-family="Liberation Serif, serif" font-size="15.0" stroke="#000" stroke-width="0.4">γ</tspan><tspan dy="7.19" font-size="9.7" stroke="#000" stroke-width="0.3">x</tspan><tspan dy="-6.46" dx="1.0">=5/20;</tspan><tspan dy="-0.73" font-weight="normal" font-family="Liberation Serif, serif" font-size="15.0" stroke="#000" stroke-width="0.4">γ</tspan><tspan dy="7.19" font-size="9.7" stroke="#000" stroke-width="0.3">y</tspan><tspan dy="-6.46" dx="1.0">=5/20</tspan></text>
<path d="M329.2,470.4 H369.6" stroke="#d4141e" stroke-width="2.5" stroke-dasharray="13.4 11.6" fill="none"/>
<text x="373.4" y="476.0" font-size="16.15"><tspan dy="-0.73" font-weight="normal" font-family="Liberation Serif, serif" font-size="15.0" stroke="#000" stroke-width="0.4">γ</tspan><tspan dy="7.19" font-size="9.7" stroke="#000" stroke-width="0.3">x</tspan><tspan dy="-6.46" dx="1.0">=5/20;</tspan><tspan dy="-0.73" font-weight="normal" font-family="Liberation Serif, serif" font-size="15.0" stroke="#000" stroke-width="0.4">γ</tspan><tspan dy="7.19" font-size="9.7" stroke="#000" stroke-width="0.3">y</tspan><tspan dy="-6.46" dx="1.0">=5/50</tspan></text>
<path d="M329.2,496.8 H369.6" stroke="#1a1ab8" stroke-width="2.7" stroke-dasharray="11.7 6 4.2 5.8 4.2 5.3" fill="none"/>
<text x="373.4" y="502.4" font-size="16.15"><tspan dy="-0.73" font-weight="normal" font-family="Liberation Serif, serif" font-size="15.0" stroke="#000" stroke-width="0.4">γ</tspan><tspan dy="7.19" font-size="9.7" stroke="#000" stroke-width="0.3">x</tspan><tspan dy="-6.46" dx="1.0">=5/20;</tspan><tspan dy="-0.73" font-weight="normal" font-family="Liberation Serif, serif" font-size="15.0" stroke="#000" stroke-width="0.4">γ</tspan><tspan dy="7.19" font-size="9.7" stroke="#000" stroke-width="0.3">y</tspan><tspan dy="-6.46" dx="1.0">=5/100</tspan></text>
</svg>
</body></html>
